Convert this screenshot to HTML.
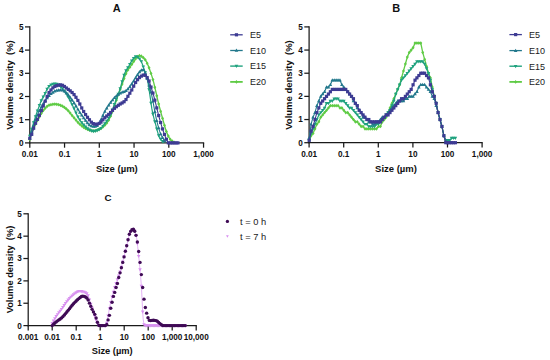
<!DOCTYPE html>
<html><head><meta charset="utf-8"><style>
html,body{margin:0;padding:0;background:#fff;width:550px;height:360px;overflow:hidden}
svg{display:block}
</style></head><body>
<svg width="550" height="360" viewBox="0 0 550 360">
<rect width="550" height="360" fill="#fff"/>
<g stroke="#1a1a1a" stroke-width="1.25" fill="none" stroke-linecap="butt">
<path d="M29.80,26.28V143.53"/>
<path d="M29.18,142.90H204.18"/>
<path d="M25.00,142.90H29.80"/>
<path d="M25.00,119.70H29.80"/>
<path d="M25.00,96.50H29.80"/>
<path d="M25.00,73.30H29.80"/>
<path d="M25.00,50.10H29.80"/>
<path d="M25.00,26.90H29.80"/>
<path d="M29.80,142.90V147.70"/>
<path d="M64.55,142.90V147.70"/>
<path d="M99.30,142.90V147.70"/>
<path d="M134.05,142.90V147.70"/>
<path d="M168.80,142.90V147.70"/>
<path d="M203.55,142.90V147.70"/>
</g>
<g font-family='"Liberation Sans", sans-serif' font-weight="bold" font-size="8.2" fill="#111">
<text x="23.50" y="145.85" text-anchor="end">0</text>
<text x="23.50" y="122.65" text-anchor="end">1</text>
<text x="23.50" y="99.45" text-anchor="end">2</text>
<text x="23.50" y="76.25" text-anchor="end">3</text>
<text x="23.50" y="53.05" text-anchor="end">4</text>
<text x="23.50" y="29.85" text-anchor="end">5</text>
<text x="29.80" y="157.40" text-anchor="middle">0.01</text>
<text x="64.55" y="157.40" text-anchor="middle">0.1</text>
<text x="99.30" y="157.40" text-anchor="middle">1</text>
<text x="134.05" y="157.40" text-anchor="middle">10</text>
<text x="168.80" y="157.40" text-anchor="middle">100</text>
<text x="203.55" y="157.40" text-anchor="middle">1,000</text>
</g>
<text x="116.80" y="11.80" font-family='"Liberation Sans", sans-serif' font-weight="bold" font-size="11.0" text-anchor="middle" fill="#111">A</text>
<text transform="translate(13.20,85.00) rotate(-90)" font-family='"Liberation Sans", sans-serif' font-weight="bold" font-size="9.5" text-anchor="middle" fill="#111">Volume density&#160; (%)</text>
<text x="116.85" y="171.60" font-family='"Liberation Sans", sans-serif' font-weight="bold" font-size="9.5" text-anchor="middle" fill="#111">Size (µm)</text>
<g stroke="#1a1a1a" stroke-width="1.25" fill="none" stroke-linecap="butt">
<path d="M309.10,26.27V143.32"/>
<path d="M308.48,142.70H482.73"/>
<path d="M304.30,142.70H309.10"/>
<path d="M304.30,119.54H309.10"/>
<path d="M304.30,96.38H309.10"/>
<path d="M304.30,73.22H309.10"/>
<path d="M304.30,50.06H309.10"/>
<path d="M304.30,26.90H309.10"/>
<path d="M309.10,142.70V147.50"/>
<path d="M343.70,142.70V147.50"/>
<path d="M378.30,142.70V147.50"/>
<path d="M412.90,142.70V147.50"/>
<path d="M447.50,142.70V147.50"/>
<path d="M482.10,142.70V147.50"/>
</g>
<g font-family='"Liberation Sans", sans-serif' font-weight="bold" font-size="8.2" fill="#111">
<text x="302.80" y="145.65" text-anchor="end">0</text>
<text x="302.80" y="122.49" text-anchor="end">1</text>
<text x="302.80" y="99.33" text-anchor="end">2</text>
<text x="302.80" y="76.17" text-anchor="end">3</text>
<text x="302.80" y="53.01" text-anchor="end">4</text>
<text x="302.80" y="29.85" text-anchor="end">5</text>
<text x="309.10" y="157.20" text-anchor="middle">0.01</text>
<text x="343.70" y="157.20" text-anchor="middle">0.1</text>
<text x="378.30" y="157.20" text-anchor="middle">1</text>
<text x="412.90" y="157.20" text-anchor="middle">10</text>
<text x="447.50" y="157.20" text-anchor="middle">100</text>
<text x="482.10" y="157.20" text-anchor="middle">1,000</text>
</g>
<text x="396.20" y="11.80" font-family='"Liberation Sans", sans-serif' font-weight="bold" font-size="11.0" text-anchor="middle" fill="#111">B</text>
<text transform="translate(292.40,85.00) rotate(-90)" font-family='"Liberation Sans", sans-serif' font-weight="bold" font-size="9.5" text-anchor="middle" fill="#111">Volume density&#160; (%)</text>
<text x="396.00" y="171.60" font-family='"Liberation Sans", sans-serif' font-weight="bold" font-size="9.5" text-anchor="middle" fill="#111">Size (µm)</text>
<g stroke="#1a1a1a" stroke-width="1.25" fill="none" stroke-linecap="butt">
<path d="M28.20,213.18V326.23"/>
<path d="M27.57,325.60H196.82"/>
<path d="M23.40,325.60H28.20"/>
<path d="M23.40,303.24H28.20"/>
<path d="M23.40,280.88H28.20"/>
<path d="M23.40,258.52H28.20"/>
<path d="M23.40,236.16H28.20"/>
<path d="M23.40,213.80H28.20"/>
<path d="M28.20,325.60V330.40"/>
<path d="M52.20,325.60V330.40"/>
<path d="M76.20,325.60V330.40"/>
<path d="M100.20,325.60V330.40"/>
<path d="M124.20,325.60V330.40"/>
<path d="M148.20,325.60V330.40"/>
<path d="M172.20,325.60V330.40"/>
<path d="M196.20,325.60V330.40"/>
</g>
<g font-family='"Liberation Sans", sans-serif' font-weight="bold" font-size="8.2" fill="#111">
<text x="21.90" y="328.55" text-anchor="end">0</text>
<text x="21.90" y="306.19" text-anchor="end">1</text>
<text x="21.90" y="283.83" text-anchor="end">2</text>
<text x="21.90" y="261.47" text-anchor="end">3</text>
<text x="21.90" y="239.11" text-anchor="end">4</text>
<text x="21.90" y="216.75" text-anchor="end">5</text>
<text x="28.20" y="340.10" text-anchor="middle">0.001</text>
<text x="52.20" y="340.10" text-anchor="middle">0.01</text>
<text x="76.20" y="340.10" text-anchor="middle">0.1</text>
<text x="100.20" y="340.10" text-anchor="middle">1</text>
<text x="124.20" y="340.10" text-anchor="middle">10</text>
<text x="148.20" y="340.10" text-anchor="middle">100</text>
<text x="172.20" y="340.10" text-anchor="middle">1,000</text>
<text x="196.20" y="340.10" text-anchor="middle">10,000</text>
</g>
<text x="108.00" y="200.90" font-family='"Liberation Sans", sans-serif' font-weight="bold" font-size="9.8" text-anchor="middle" fill="#111">C</text>
<text transform="translate(13.20,269.50) rotate(-90)" font-family='"Liberation Sans", sans-serif' font-weight="bold" font-size="9.3" text-anchor="middle" fill="#111">Volume density&#160; (%)</text>
<text x="112.20" y="354.00" font-family='"Liberation Sans", sans-serif' font-weight="bold" font-size="9.3" text-anchor="middle" fill="#111">Size (µm)</text>
<path d="M29.80,139.42 L30.30,137.86 L30.80,136.33 L31.30,134.85 L31.80,133.41 L32.30,132.01 L32.80,130.66 L33.30,129.36 L33.80,128.10 L34.30,126.89 L34.80,125.73 L35.30,124.62 L35.80,123.56 L36.30,122.55 L36.80,121.58 L37.30,120.63 L37.80,119.71 L38.30,118.81 L38.80,117.92 L39.30,117.02 L39.80,116.11 L40.30,115.20 L40.80,114.30 L41.30,113.42 L41.80,112.58 L42.30,111.79 L42.80,111.07 L43.30,110.42 L43.80,109.82 L44.30,109.22 L44.80,108.63 L45.30,108.06 L45.80,107.51 L46.30,107.01 L46.80,106.55 L47.30,106.14 L47.80,105.79 L48.30,105.52 L48.80,105.32 L49.30,105.16 L49.80,105.01 L50.30,104.87 L50.80,104.74 L51.30,104.62 L51.80,104.51 L52.30,104.41 L52.80,104.33 L53.30,104.26 L53.80,104.21 L54.30,104.17 L54.80,104.16 L55.30,104.16 L55.80,104.19 L56.30,104.24 L56.80,104.31 L57.30,104.41 L57.80,104.51 L58.30,104.63 L58.80,104.76 L59.30,104.89 L59.80,105.03 L60.30,105.17 L60.80,105.35 L61.30,105.57 L61.80,105.81 L62.30,106.08 L62.80,106.37 L63.30,106.69 L63.80,107.03 L64.30,107.39 L64.80,107.76 L65.30,108.14 L65.80,108.54 L66.30,108.94 L66.80,109.34 L67.30,109.78 L67.80,110.27 L68.30,110.80 L68.80,111.37 L69.30,111.96 L69.80,112.57 L70.30,113.20 L70.80,113.84 L71.30,114.47 L71.80,115.11 L72.30,115.73 L72.80,116.34 L73.30,116.92 L73.80,117.49 L74.30,118.07 L74.80,118.67 L75.30,119.26 L75.80,119.86 L76.30,120.45 L76.80,121.04 L77.30,121.61 L77.80,122.17 L78.30,122.71 L78.80,123.22 L79.30,123.71 L79.80,124.17 L80.30,124.60 L80.80,125.02 L81.30,125.43 L81.80,125.84 L82.30,126.24 L82.80,126.63 L83.30,127.00 L83.80,127.36 L84.30,127.70 L84.80,128.01 L85.30,128.30 L85.80,128.57 L86.30,128.81 L86.80,129.02 L87.30,129.22 L87.80,129.42 L88.30,129.62 L88.80,129.81 L89.30,130.00 L89.80,130.17 L90.30,130.33 L90.80,130.47 L91.30,130.60 L91.80,130.70 L92.30,130.77 L92.80,130.82 L93.30,130.84 L93.80,130.82 L94.30,130.78 L94.80,130.71 L95.30,130.61 L95.80,130.50 L96.30,130.37 L96.80,130.21 L97.30,130.05 L97.80,129.87 L98.30,129.68 L98.80,129.48 L99.30,129.27 L99.80,129.06 L100.30,128.84 L100.80,128.57 L101.30,128.25 L101.80,127.89 L102.30,127.50 L102.80,127.07 L103.30,126.63 L103.80,126.16 L104.30,125.69 L104.80,125.21 L105.30,124.70 L105.80,124.17 L106.30,123.60 L106.80,122.98 L107.30,122.33 L107.80,121.62 L108.30,120.86 L108.80,120.01 L109.30,119.06 L109.80,118.02 L110.30,116.89 L110.80,115.70 L111.30,114.46 L111.80,113.18 L112.30,111.88 L112.80,110.57 L113.30,109.26 L113.80,107.92 L114.30,106.50 L114.80,105.03 L115.30,103.51 L115.80,101.98 L116.30,100.43 L116.80,98.90 L117.30,97.38 L117.80,95.91 L118.30,94.49 L118.80,93.10 L119.30,91.72 L119.80,90.36 L120.30,89.01 L120.80,87.66 L121.30,86.32 L121.80,84.96 L122.30,83.59 L122.80,82.21 L123.30,80.78 L123.80,79.35 L124.30,77.94 L124.80,76.60 L125.30,75.33 L125.80,74.08 L126.30,72.91 L126.80,71.87 L127.30,70.96 L127.80,70.14 L128.30,69.38 L128.80,68.66 L129.30,67.97 L129.80,67.29 L130.30,66.60 L130.80,65.88 L131.30,65.12 L131.80,64.36 L132.30,63.60 L132.80,62.83 L133.30,62.08 L133.80,61.34 L134.30,60.63 L134.80,59.94 L135.30,59.22 L135.80,58.49 L136.30,57.79 L136.80,57.19 L137.30,56.73 L137.80,56.43 L138.30,56.16 L138.80,55.93 L139.30,55.77 L139.80,55.68 L140.30,55.70 L140.80,55.88 L141.30,56.17 L141.80,56.53 L142.30,56.91 L142.80,57.29 L143.30,57.71 L143.80,58.18 L144.30,58.71 L144.80,59.30 L145.30,59.94 L145.80,60.67 L146.30,61.54 L146.80,62.52 L147.30,63.58 L147.80,64.71 L148.30,65.88 L148.80,67.12 L149.30,68.48 L149.80,69.93 L150.30,71.41 L150.80,72.90 L151.30,74.38 L151.80,75.88 L152.30,77.44 L152.80,79.09 L153.30,80.86 L153.80,82.87 L154.30,85.01 L154.80,87.14 L155.30,89.31 L155.80,91.51 L156.30,93.73 L156.80,95.95 L157.30,98.14 L157.80,100.28 L158.30,102.36 L158.80,104.36 L159.30,106.33 L159.80,108.25 L160.30,110.15 L160.80,112.01 L161.30,113.85 L161.80,115.67 L162.30,117.47 L162.80,119.26 L163.30,121.09 L163.80,122.94 L164.30,124.77 L164.80,126.55 L165.30,128.25 L165.80,129.83 L166.30,131.25 L166.80,132.51 L167.30,133.73 L167.80,134.90 L168.30,136.01 L168.80,137.03 L169.30,137.96 L169.80,138.76 L170.30,139.43 L170.80,139.95 L171.30,140.39 L171.80,140.77 L172.30,141.11 L172.80,141.43 L173.30,141.74 L173.80,142.07 L174.30,142.42 L174.80,142.76" fill="none" stroke="#5fcb45" stroke-width="1.30" stroke-linejoin="round"/>
<g fill="#5fcb45">
<path d="M29.80,137.55L31.30,139.42L29.80,141.29L28.30,139.42Z"/>
<path d="M31.72,131.76L33.22,133.63L31.72,135.50L30.23,133.63Z"/>
<path d="M33.65,126.61L35.14,128.48L33.65,130.35L32.15,128.48Z"/>
<path d="M35.57,122.17L37.07,124.04L35.57,125.91L34.08,124.04Z"/>
<path d="M37.50,118.40L38.99,120.27L37.50,122.14L36.00,120.27Z"/>
<path d="M39.42,114.94L40.91,116.81L39.42,118.68L37.92,116.81Z"/>
<path d="M41.34,111.48L42.84,113.35L41.34,115.22L39.85,113.35Z"/>
<path d="M43.27,108.59L44.76,110.46L43.27,112.33L41.77,110.46Z"/>
<path d="M45.19,106.31L46.69,108.18L45.19,110.05L43.69,108.18Z"/>
<path d="M47.11,104.41L48.61,106.28L47.11,108.15L45.62,106.28Z"/>
<path d="M49.04,103.37L50.53,105.24L49.04,107.11L47.54,105.24Z"/>
<path d="M50.96,102.83L52.46,104.70L50.96,106.57L49.47,104.70Z"/>
<path d="M52.89,102.45L54.38,104.32L52.89,106.19L51.39,104.32Z"/>
<path d="M54.81,102.29L56.31,104.16L54.81,106.03L53.31,104.16Z"/>
<path d="M56.73,102.43L58.23,104.30L56.73,106.17L55.24,104.30Z"/>
<path d="M58.66,102.85L60.15,104.72L58.66,106.59L57.16,104.72Z"/>
<path d="M60.58,103.40L62.08,105.27L60.58,107.14L59.08,105.27Z"/>
<path d="M62.50,104.33L64.00,106.20L62.50,108.07L61.01,106.20Z"/>
<path d="M64.43,105.61L65.92,107.48L64.43,109.35L62.93,107.48Z"/>
<path d="M66.35,107.11L67.85,108.98L66.35,110.85L64.86,108.98Z"/>
<path d="M68.28,108.91L69.77,110.78L68.28,112.65L66.78,110.78Z"/>
<path d="M70.20,111.20L71.70,113.07L70.20,114.94L68.70,113.07Z"/>
<path d="M72.12,113.64L73.62,115.51L72.12,117.38L70.63,115.51Z"/>
<path d="M74.05,115.91L75.54,117.78L74.05,119.65L72.55,117.78Z"/>
<path d="M75.97,118.19L77.47,120.06L75.97,121.93L74.47,120.06Z"/>
<path d="M77.89,120.40L79.39,122.27L77.89,124.14L76.40,122.27Z"/>
<path d="M79.82,122.31L81.31,124.18L79.82,126.05L78.32,124.18Z"/>
<path d="M81.74,123.93L83.24,125.80L81.74,127.67L80.25,125.80Z"/>
<path d="M83.67,125.40L85.16,127.27L83.67,129.14L82.17,127.27Z"/>
<path d="M85.59,126.59L87.09,128.46L85.59,130.33L84.09,128.46Z"/>
<path d="M87.51,127.44L89.01,129.31L87.51,131.18L86.02,129.31Z"/>
<path d="M89.44,128.18L90.93,130.05L89.44,131.92L87.94,130.05Z"/>
<path d="M91.36,128.74L92.86,130.61L91.36,132.48L89.87,130.61Z"/>
<path d="M93.29,128.97L94.78,130.84L93.29,132.71L91.79,130.84Z"/>
<path d="M95.21,128.76L96.70,130.63L95.21,132.50L93.71,130.63Z"/>
<path d="M97.13,128.23L98.63,130.10L97.13,131.97L95.64,130.10Z"/>
<path d="M99.06,127.50L100.55,129.37L99.06,131.24L97.56,129.37Z"/>
<path d="M100.98,126.59L102.48,128.46L100.98,130.33L99.48,128.46Z"/>
<path d="M102.90,125.11L104.40,126.98L102.90,128.85L101.41,126.98Z"/>
<path d="M104.83,123.31L106.32,125.18L104.83,127.05L103.33,125.18Z"/>
<path d="M106.75,121.17L108.25,123.04L106.75,124.91L105.26,123.04Z"/>
<path d="M108.68,118.36L110.17,120.23L108.68,122.10L107.18,120.23Z"/>
<path d="M110.60,114.32L112.10,116.19L110.60,118.06L109.10,116.19Z"/>
<path d="M112.52,109.43L114.02,111.30L112.52,113.17L111.03,111.30Z"/>
<path d="M114.45,104.20L115.94,106.07L114.45,107.94L112.95,106.07Z"/>
<path d="M116.37,98.34L117.87,100.21L116.37,102.08L114.87,100.21Z"/>
<path d="M118.29,92.64L119.79,94.51L118.29,96.38L116.80,94.51Z"/>
<path d="M120.22,87.36L121.71,89.23L120.22,91.10L118.72,89.23Z"/>
<path d="M122.14,82.16L123.64,84.03L122.14,85.90L120.65,84.03Z"/>
<path d="M124.07,76.72L125.56,78.59L124.07,80.46L122.57,78.59Z"/>
<path d="M125.99,71.76L127.49,73.63L125.99,75.50L124.49,73.63Z"/>
<path d="M127.91,68.09L129.41,69.96L127.91,71.83L126.42,69.96Z"/>
<path d="M129.84,65.37L131.33,67.24L129.84,69.11L128.34,67.24Z"/>
<path d="M131.76,62.55L133.26,64.42L131.76,66.29L130.26,64.42Z"/>
<path d="M133.68,59.64L135.18,61.51L133.68,63.38L132.19,61.51Z"/>
<path d="M135.61,56.90L137.10,58.77L135.61,60.64L134.11,58.77Z"/>
<path d="M137.53,54.71L139.03,56.58L137.53,58.45L136.04,56.58Z"/>
<path d="M139.46,53.86L140.95,55.73L139.46,57.60L137.96,55.73Z"/>
<path d="M141.38,54.36L142.88,56.23L141.38,58.10L139.88,56.23Z"/>
<path d="M143.30,55.84L144.80,57.71L143.30,59.58L141.81,57.71Z"/>
<path d="M145.23,57.97L146.72,59.84L145.23,61.71L143.73,59.84Z"/>
<path d="M147.15,61.39L148.65,63.26L147.15,65.13L145.66,63.26Z"/>
<path d="M149.08,65.99L150.57,67.86L149.08,69.73L147.58,67.86Z"/>
<path d="M151.00,71.62L152.49,73.49L151.00,75.36L149.50,73.49Z"/>
<path d="M152.92,77.64L154.42,79.51L152.92,81.38L151.43,79.51Z"/>
<path d="M154.85,85.47L156.34,87.34L154.85,89.21L153.35,87.34Z"/>
<path d="M156.77,93.95L158.27,95.82L156.77,97.69L155.27,95.82Z"/>
<path d="M158.69,102.07L160.19,103.94L158.69,105.81L157.20,103.94Z"/>
<path d="M160.62,109.47L162.11,111.34L160.62,113.21L159.12,111.34Z"/>
<path d="M162.54,116.46L164.04,118.33L162.54,120.20L161.05,118.33Z"/>
<path d="M164.47,123.50L165.96,125.37L164.47,127.24L162.97,125.37Z"/>
<path d="M166.39,129.61L167.89,131.48L166.39,133.35L164.89,131.48Z"/>
<path d="M168.31,134.17L169.81,136.04L168.31,137.91L166.82,136.04Z"/>
<path d="M170.24,137.48L171.73,139.35L170.24,141.22L168.74,139.35Z"/>
<path d="M172.16,139.15L173.66,141.02L172.16,142.89L170.66,141.02Z"/>
<path d="M174.08,140.39L175.58,142.26L174.08,144.13L172.59,142.26Z"/>
</g>
<path d="M29.80,135.94 L30.30,134.11 L30.80,132.31 L31.30,130.53 L31.80,128.78 L32.30,127.05 L32.80,125.36 L33.30,123.70 L33.80,122.07 L34.30,120.46 L34.80,118.87 L35.30,117.30 L35.80,115.77 L36.30,114.26 L36.80,112.77 L37.30,111.32 L37.80,109.91 L38.30,108.50 L38.80,107.10 L39.30,105.72 L39.80,104.37 L40.30,103.07 L40.80,101.82 L41.30,100.64 L41.80,99.53 L42.30,98.52 L42.80,97.59 L43.30,96.69 L43.80,95.81 L44.30,94.92 L44.80,93.99 L45.30,92.97 L45.80,91.90 L46.30,90.80 L46.80,89.74 L47.30,88.76 L47.80,87.91 L48.30,87.22 L48.80,86.66 L49.30,86.16 L49.80,85.71 L50.30,85.33 L50.80,85.01 L51.30,84.74 L51.80,84.49 L52.30,84.24 L52.80,84.03 L53.30,83.87 L53.80,83.77 L54.30,83.74 L54.80,83.75 L55.30,83.78 L55.80,83.82 L56.30,83.88 L56.80,83.94 L57.30,84.04 L57.80,84.27 L58.30,84.60 L58.80,85.00 L59.30,85.44 L59.80,85.89 L60.30,86.32 L60.80,86.78 L61.30,87.28 L61.80,87.82 L62.30,88.38 L62.80,88.97 L63.30,89.58 L63.80,90.21 L64.30,90.86 L64.80,91.56 L65.30,92.29 L65.80,93.05 L66.30,93.84 L66.80,94.65 L67.30,95.49 L67.80,96.35 L68.30,97.22 L68.80,98.11 L69.30,99.00 L69.80,99.92 L70.30,100.87 L70.80,101.86 L71.30,102.86 L71.80,103.89 L72.30,104.92 L72.80,105.97 L73.30,107.02 L73.80,108.08 L74.30,109.12 L74.80,110.16 L75.30,111.24 L75.80,112.35 L76.30,113.47 L76.80,114.57 L77.30,115.61 L77.80,116.56 L78.30,117.42 L78.80,118.25 L79.30,119.04 L79.80,119.81 L80.30,120.55 L80.80,121.25 L81.30,121.93 L81.80,122.58 L82.30,123.20 L82.80,123.78 L83.30,124.34 L83.80,124.88 L84.30,125.41 L84.80,125.92 L85.30,126.43 L85.80,126.92 L86.30,127.40 L86.80,127.85 L87.30,128.28 L87.80,128.69 L88.30,129.07 L88.80,129.43 L89.30,129.75 L89.80,130.04 L90.30,130.30 L90.80,130.56 L91.30,130.82 L91.80,131.04 L92.30,131.20 L92.80,131.29 L93.30,131.29 L93.80,131.25 L94.30,131.19 L94.80,131.10 L95.30,130.99 L95.80,130.88 L96.30,130.76 L96.80,130.61 L97.30,130.43 L97.80,130.21 L98.30,129.97 L98.80,129.71 L99.30,129.42 L99.80,129.11 L100.30,128.77 L100.80,128.35 L101.30,127.87 L101.80,127.32 L102.30,126.74 L102.80,126.12 L103.30,125.49 L103.80,124.85 L104.30,124.21 L104.80,123.59 L105.30,122.95 L105.80,122.30 L106.30,121.64 L106.80,120.97 L107.30,120.26 L107.80,119.53 L108.30,118.77 L108.80,117.96 L109.30,117.12 L109.80,116.23 L110.30,115.29 L110.80,114.25 L111.30,113.07 L111.80,111.79 L112.30,110.42 L112.80,108.99 L113.30,107.54 L113.80,106.08 L114.30,104.65 L114.80,103.26 L115.30,101.94 L115.80,100.63 L116.30,99.33 L116.80,98.04 L117.30,96.74 L117.80,95.42 L118.30,94.08 L118.80,92.71 L119.30,91.28 L119.80,89.79 L120.30,88.17 L120.80,86.44 L121.30,84.64 L121.80,82.81 L122.30,80.98 L122.80,79.18 L123.30,77.46 L123.80,75.84 L124.30,74.37 L124.80,73.07 L125.30,71.96 L125.80,70.97 L126.30,70.07 L126.80,69.24 L127.30,68.44 L127.80,67.66 L128.30,66.87 L128.80,66.05 L129.30,65.17 L129.80,64.24 L130.30,63.31 L130.80,62.40 L131.30,61.55 L131.80,60.80 L132.30,60.15 L132.80,59.48 L133.30,58.81 L133.80,58.17 L134.30,57.60 L134.80,57.13 L135.30,56.79 L135.80,56.61 L136.30,56.62 L136.80,56.74 L137.30,56.97 L137.80,57.29 L138.30,57.69 L138.80,58.16 L139.30,58.68 L139.80,59.24 L140.30,59.83 L140.80,60.51 L141.30,61.47 L141.80,62.66 L142.30,63.99 L142.80,65.34 L143.30,66.68 L143.80,68.11 L144.30,69.62 L144.80,71.18 L145.30,72.77 L145.80,74.37 L146.30,75.92 L146.80,77.49 L147.30,79.33 L147.80,81.73 L148.30,84.62 L148.80,87.80 L149.30,91.09 L149.80,94.32 L150.30,97.83 L150.80,101.51 L151.30,105.11 L151.80,108.40 L152.30,111.16 L152.80,113.52 L153.30,115.67 L153.80,117.65 L154.30,119.53 L154.80,121.34 L155.30,123.14 L155.80,125.00 L156.30,126.93 L156.80,128.89 L157.30,130.80 L157.80,132.62 L158.30,134.29 L158.80,135.73 L159.30,136.90 L159.80,137.82 L160.30,138.62 L160.80,139.33 L161.30,139.98 L161.80,140.57 L162.30,141.12 L162.80,141.66 L163.30,142.20 L163.80,142.71" fill="none" stroke="#1fa27e" stroke-width="1.20" stroke-linejoin="round"/>
<g fill="#1fa27e">
<path d="M29.80,137.88L31.60,134.64L28.00,134.64Z"/>
<path d="M31.72,130.99L33.52,127.75L29.92,127.75Z"/>
<path d="M33.65,124.51L35.45,121.27L31.85,121.27Z"/>
<path d="M35.57,118.41L37.37,115.17L33.77,115.17Z"/>
<path d="M37.50,112.71L39.30,109.47L35.70,109.47Z"/>
<path d="M39.42,107.34L41.22,104.10L37.62,104.10Z"/>
<path d="M41.34,102.48L43.14,99.24L39.54,99.24Z"/>
<path d="M43.27,98.69L45.07,95.45L41.47,95.45Z"/>
<path d="M45.19,95.15L46.99,91.91L43.39,91.91Z"/>
<path d="M47.11,91.06L48.91,87.82L45.31,87.82Z"/>
<path d="M49.04,88.36L50.84,85.12L47.24,85.12Z"/>
<path d="M50.96,86.86L52.76,83.62L49.16,83.62Z"/>
<path d="M52.89,85.95L54.69,82.71L51.09,82.71Z"/>
<path d="M54.81,85.70L56.61,82.46L53.01,82.46Z"/>
<path d="M56.73,85.88L58.53,82.64L54.93,82.64Z"/>
<path d="M58.66,86.83L60.46,83.59L56.86,83.59Z"/>
<path d="M60.58,88.52L62.38,85.28L58.78,85.28Z"/>
<path d="M62.50,90.56L64.30,87.32L60.70,87.32Z"/>
<path d="M64.43,92.98L66.23,89.74L62.63,89.74Z"/>
<path d="M66.35,95.86L68.15,92.62L64.55,92.62Z"/>
<path d="M68.28,99.12L70.08,95.88L66.48,95.88Z"/>
<path d="M70.20,102.62L72.00,99.38L68.40,99.38Z"/>
<path d="M72.12,106.50L73.92,103.26L70.32,103.26Z"/>
<path d="M74.05,110.54L75.85,107.30L72.25,107.30Z"/>
<path d="M75.97,114.68L77.77,111.44L74.17,111.44Z"/>
<path d="M77.89,118.68L79.69,115.44L76.09,115.44Z"/>
<path d="M79.82,121.78L81.62,118.54L78.02,118.54Z"/>
<path d="M81.74,124.45L83.54,121.21L79.94,121.21Z"/>
<path d="M83.67,126.68L85.47,123.44L81.87,123.44Z"/>
<path d="M85.59,128.66L87.39,125.42L83.79,125.42Z"/>
<path d="M87.51,130.41L89.31,127.17L85.71,127.17Z"/>
<path d="M89.44,131.77L91.24,128.53L87.64,128.53Z"/>
<path d="M91.36,132.79L93.16,129.55L89.56,129.55Z"/>
<path d="M93.29,133.24L95.09,130.00L91.49,130.00Z"/>
<path d="M95.21,132.96L97.01,129.72L93.41,129.72Z"/>
<path d="M97.13,132.44L98.93,129.20L95.33,129.20Z"/>
<path d="M99.06,131.51L100.86,128.27L97.26,128.27Z"/>
<path d="M100.98,130.13L102.78,126.89L99.18,126.89Z"/>
<path d="M102.90,127.93L104.70,124.69L101.10,124.69Z"/>
<path d="M104.83,125.49L106.63,122.25L103.03,122.25Z"/>
<path d="M106.75,122.98L108.55,119.74L104.95,119.74Z"/>
<path d="M108.68,120.11L110.48,116.87L106.88,116.87Z"/>
<path d="M110.60,116.63L112.40,113.39L108.80,113.39Z"/>
<path d="M112.52,111.73L114.32,108.49L110.72,108.49Z"/>
<path d="M114.45,106.18L116.25,102.94L112.65,102.94Z"/>
<path d="M116.37,101.09L118.17,97.85L114.57,97.85Z"/>
<path d="M118.29,96.04L120.09,92.80L116.49,92.80Z"/>
<path d="M120.22,90.38L122.02,87.14L118.42,87.14Z"/>
<path d="M122.14,83.50L123.94,80.26L120.34,80.26Z"/>
<path d="M124.07,76.98L125.87,73.74L122.27,73.74Z"/>
<path d="M125.99,72.57L127.79,69.33L124.19,69.33Z"/>
<path d="M127.91,69.43L129.71,66.19L126.11,66.19Z"/>
<path d="M129.84,66.12L131.64,62.88L128.04,62.88Z"/>
<path d="M131.76,62.80L133.56,59.56L129.96,59.56Z"/>
<path d="M133.68,60.26L135.48,57.02L131.88,57.02Z"/>
<path d="M135.61,58.60L137.41,55.36L133.81,55.36Z"/>
<path d="M137.53,59.06L139.33,55.82L135.73,55.82Z"/>
<path d="M139.46,60.80L141.26,57.56L137.66,57.56Z"/>
<path d="M141.38,63.59L143.18,60.35L139.58,60.35Z"/>
<path d="M143.30,68.64L145.10,65.40L141.50,65.40Z"/>
<path d="M145.23,74.48L147.03,71.24L143.43,71.24Z"/>
<path d="M147.15,80.68L148.95,77.44L145.35,77.44Z"/>
<path d="M149.08,91.56L150.88,88.32L147.28,88.32Z"/>
<path d="M151.00,104.90L152.80,101.66L149.20,101.66Z"/>
<path d="M152.92,116.01L154.72,112.77L151.12,112.77Z"/>
<path d="M154.85,123.45L156.65,120.21L153.05,120.21Z"/>
<path d="M156.77,130.71L158.57,127.47L154.97,127.47Z"/>
<path d="M158.69,137.39L160.49,134.15L156.89,134.15Z"/>
<path d="M160.62,141.03L162.42,137.79L158.82,137.79Z"/>
<path d="M162.54,143.33L164.34,140.09L160.74,140.09Z"/>
</g>
<path d="M29.80,138.26 L30.30,136.44 L30.80,134.66 L31.30,132.93 L31.80,131.24 L32.30,129.59 L32.80,127.99 L33.30,126.43 L33.80,124.93 L34.30,123.47 L34.80,122.05 L35.30,120.67 L35.80,119.33 L36.30,118.03 L36.80,116.76 L37.30,115.54 L37.80,114.36 L38.30,113.22 L38.80,112.11 L39.30,111.02 L39.80,109.97 L40.30,108.96 L40.80,107.97 L41.30,107.03 L41.80,106.13 L42.30,105.26 L42.80,104.42 L43.30,103.58 L43.80,102.77 L44.30,101.97 L44.80,101.20 L45.30,100.44 L45.80,99.71 L46.30,99.01 L46.80,98.34 L47.30,97.69 L47.80,97.08 L48.30,96.50 L48.80,95.95 L49.30,95.41 L49.80,94.90 L50.30,94.42 L50.80,93.97 L51.30,93.55 L51.80,93.16 L52.30,92.81 L52.80,92.46 L53.30,92.11 L53.80,91.77 L54.30,91.46 L54.80,91.17 L55.30,90.92 L55.80,90.71 L56.30,90.55 L56.80,90.45 L57.30,90.38 L57.80,90.30 L58.30,90.24 L58.80,90.18 L59.30,90.13 L59.80,90.08 L60.30,90.05 L60.80,90.02 L61.30,90.01 L61.80,90.01 L62.30,90.08 L62.80,90.24 L63.30,90.48 L63.80,90.80 L64.30,91.17 L64.80,91.59 L65.30,92.04 L65.80,92.52 L66.30,93.01 L66.80,93.51 L67.30,93.99 L67.80,94.48 L68.30,95.03 L68.80,95.64 L69.30,96.28 L69.80,96.93 L70.30,97.59 L70.80,98.25 L71.30,98.93 L71.80,99.63 L72.30,100.34 L72.80,101.06 L73.30,101.79 L73.80,102.54 L74.30,103.30 L74.80,104.08 L75.30,104.87 L75.80,105.71 L76.30,106.58 L76.80,107.46 L77.30,108.33 L77.80,109.17 L78.30,109.97 L78.80,110.76 L79.30,111.55 L79.80,112.32 L80.30,113.09 L80.80,113.85 L81.30,114.59 L81.80,115.32 L82.30,116.04 L82.80,116.73 L83.30,117.41 L83.80,118.08 L84.30,118.74 L84.80,119.43 L85.30,120.12 L85.80,120.82 L86.30,121.50 L86.80,122.17 L87.30,122.80 L87.80,123.39 L88.30,123.94 L88.80,124.42 L89.30,124.83 L89.80,125.16 L90.30,125.42 L90.80,125.66 L91.30,125.89 L91.80,126.11 L92.30,126.30 L92.80,126.45 L93.30,126.57 L93.80,126.64 L94.30,126.66 L94.80,126.60 L95.30,126.48 L95.80,126.31 L96.30,126.09 L96.80,125.84 L97.30,125.53 L97.80,125.03 L98.30,124.36 L98.80,123.58 L99.30,122.74 L99.80,121.89 L100.30,121.04 L100.80,120.10 L101.30,119.08 L101.80,117.99 L102.30,116.87 L102.80,115.73 L103.30,114.60 L103.80,113.50 L104.30,112.45 L104.80,111.48 L105.30,110.59 L105.80,109.73 L106.30,108.90 L106.80,108.09 L107.30,107.29 L107.80,106.52 L108.30,105.77 L108.80,105.04 L109.30,104.33 L109.80,103.64 L110.30,102.96 L110.80,102.30 L111.30,101.65 L111.80,101.00 L112.30,100.36 L112.80,99.73 L113.30,99.11 L113.80,98.51 L114.30,97.93 L114.80,97.38 L115.30,96.85 L115.80,96.36 L116.30,95.91 L116.80,95.49 L117.30,95.11 L117.80,94.74 L118.30,94.39 L118.80,94.06 L119.30,93.75 L119.80,93.45 L120.30,93.17 L120.80,92.91 L121.30,92.65 L121.80,92.42 L122.30,92.21 L122.80,92.03 L123.30,91.86 L123.80,91.68 L124.30,91.49 L124.80,91.26 L125.30,91.00 L125.80,90.71 L126.30,90.37 L126.80,90.01 L127.30,89.60 L127.80,89.17 L128.30,88.68 L128.80,88.13 L129.30,87.51 L129.80,86.84 L130.30,86.13 L130.80,85.39 L131.30,84.63 L131.80,83.86 L132.30,83.10 L132.80,82.35 L133.30,81.59 L133.80,80.79 L134.30,79.97 L134.80,79.13 L135.30,78.29 L135.80,77.46 L136.30,76.65 L136.80,75.86 L137.30,75.12 L137.80,74.41 L138.30,73.69 L138.80,72.96 L139.30,72.26 L139.80,71.62 L140.30,71.07 L140.80,70.64 L141.30,70.34 L141.80,70.07 L142.30,69.84 L142.80,69.67 L143.30,69.59 L143.80,69.80 L144.30,70.58 L144.80,71.73 L145.30,73.08 L145.80,74.44 L146.30,75.76 L146.80,77.27 L147.30,78.93 L147.80,80.67 L148.30,82.44 L148.80,84.20 L149.30,85.94 L149.80,87.70 L150.30,89.51 L150.80,91.41 L151.30,93.44 L151.80,95.66 L152.30,98.07 L152.80,100.62 L153.30,103.26 L153.80,105.97 L154.30,108.68 L154.80,111.37 L155.30,113.97 L155.80,116.47 L156.30,118.80 L156.80,120.93 L157.30,122.88 L157.80,124.79 L158.30,126.64 L158.80,128.41 L159.30,130.08 L159.80,131.64 L160.30,133.05 L160.80,134.32 L161.30,135.41 L161.80,136.37 L162.30,137.24 L162.80,138.04 L163.30,138.82 L163.80,139.63 L164.30,140.49 L164.80,141.44 L165.30,142.48" fill="none" stroke="#22788c" stroke-width="1.10" stroke-linejoin="round"/>
<g fill="#22788c">
<path d="M29.80,136.32L31.60,139.56L28.00,139.56Z"/>
<path d="M31.72,129.55L33.52,132.79L29.92,132.79Z"/>
<path d="M33.65,123.44L35.45,126.68L31.85,126.68Z"/>
<path d="M35.57,117.99L37.37,121.23L33.77,121.23Z"/>
<path d="M37.50,113.13L39.30,116.37L35.70,116.37Z"/>
<path d="M39.42,108.83L41.22,112.07L37.62,112.07Z"/>
<path d="M41.34,105.01L43.14,108.25L39.54,108.25Z"/>
<path d="M43.27,101.69L45.07,104.93L41.47,104.93Z"/>
<path d="M45.19,98.66L46.99,101.90L43.39,101.90Z"/>
<path d="M47.11,95.99L48.91,99.23L45.31,99.23Z"/>
<path d="M49.04,93.75L50.84,96.99L47.24,96.99Z"/>
<path d="M50.96,91.88L52.76,95.12L49.16,95.12Z"/>
<path d="M52.89,90.45L54.69,93.69L51.09,93.69Z"/>
<path d="M54.81,89.22L56.61,92.46L53.01,92.46Z"/>
<path d="M56.73,88.52L58.53,91.76L54.93,91.76Z"/>
<path d="M58.66,88.25L60.46,91.49L56.86,91.49Z"/>
<path d="M60.58,88.09L62.38,91.33L58.78,91.33Z"/>
<path d="M62.50,88.19L64.30,91.43L60.70,91.43Z"/>
<path d="M64.43,89.33L66.23,92.57L62.63,92.57Z"/>
<path d="M66.35,91.12L68.15,94.36L64.55,94.36Z"/>
<path d="M68.28,93.06L70.08,96.30L66.48,96.30Z"/>
<path d="M70.20,95.51L72.00,98.75L68.40,98.75Z"/>
<path d="M72.12,98.14L73.92,101.38L70.32,101.38Z"/>
<path d="M74.05,100.97L75.85,104.21L72.25,104.21Z"/>
<path d="M75.97,104.06L77.77,107.30L74.17,107.30Z"/>
<path d="M77.89,107.38L79.69,110.62L76.09,110.62Z"/>
<path d="M79.82,110.41L81.62,113.65L78.02,113.65Z"/>
<path d="M81.74,113.29L83.54,116.53L79.94,116.53Z"/>
<path d="M83.67,115.96L85.47,119.20L81.87,119.20Z"/>
<path d="M85.59,118.58L87.39,121.82L83.79,121.82Z"/>
<path d="M87.51,121.12L89.31,124.36L85.71,124.36Z"/>
<path d="M89.44,122.99L91.24,126.23L87.64,126.23Z"/>
<path d="M91.36,123.98L93.16,127.22L89.56,127.22Z"/>
<path d="M93.29,124.62L95.09,127.86L91.49,127.86Z"/>
<path d="M95.21,124.56L97.01,127.80L93.41,127.80Z"/>
<path d="M97.13,123.71L98.93,126.95L95.33,126.95Z"/>
<path d="M99.06,121.21L100.86,124.45L97.26,124.45Z"/>
<path d="M100.98,117.80L102.78,121.04L99.18,121.04Z"/>
<path d="M102.90,113.55L104.70,116.79L101.10,116.79Z"/>
<path d="M104.83,109.48L106.63,112.72L103.03,112.72Z"/>
<path d="M106.75,106.22L108.55,109.46L104.95,109.46Z"/>
<path d="M108.68,103.28L110.48,106.52L106.88,106.52Z"/>
<path d="M110.60,100.62L112.40,103.86L108.80,103.86Z"/>
<path d="M112.52,98.13L114.32,101.37L110.72,101.37Z"/>
<path d="M114.45,95.82L116.25,99.06L112.65,99.06Z"/>
<path d="M116.37,93.90L118.17,97.14L114.57,97.14Z"/>
<path d="M118.29,92.45L120.09,95.69L116.49,95.69Z"/>
<path d="M120.22,91.27L122.02,94.51L118.42,94.51Z"/>
<path d="M122.14,90.33L123.94,93.57L120.34,93.57Z"/>
<path d="M124.07,89.64L125.87,92.88L122.27,92.88Z"/>
<path d="M125.99,88.64L127.79,91.88L124.19,91.88Z"/>
<path d="M127.91,87.12L129.71,90.36L126.11,90.36Z"/>
<path d="M129.84,84.84L131.64,88.08L128.04,88.08Z"/>
<path d="M131.76,81.98L133.56,85.22L129.96,85.22Z"/>
<path d="M133.68,79.03L135.48,82.27L131.88,82.27Z"/>
<path d="M135.61,75.83L137.41,79.07L133.81,79.07Z"/>
<path d="M137.53,72.84L139.33,76.08L135.73,76.08Z"/>
<path d="M139.46,70.11L141.26,73.35L137.66,73.35Z"/>
<path d="M141.38,68.36L143.18,71.60L139.58,71.60Z"/>
<path d="M143.30,67.65L145.10,70.89L141.50,70.89Z"/>
<path d="M145.23,70.94L147.03,74.18L143.43,74.18Z"/>
<path d="M147.15,76.48L148.95,79.72L145.35,79.72Z"/>
<path d="M149.08,83.21L150.88,86.45L147.28,86.45Z"/>
<path d="M151.00,90.26L152.80,93.50L149.20,93.50Z"/>
<path d="M152.92,99.32L154.72,102.56L151.12,102.56Z"/>
<path d="M154.85,109.67L156.65,112.91L153.05,112.91Z"/>
<path d="M156.77,118.86L158.57,122.10L154.97,122.10Z"/>
<path d="M158.69,126.10L160.49,129.34L156.89,129.34Z"/>
<path d="M160.62,131.93L162.42,135.17L158.82,135.17Z"/>
<path d="M162.54,135.68L164.34,138.92L160.74,138.92Z"/>
<path d="M164.47,138.84L166.27,142.08L162.67,142.08Z"/>
</g>
<path d="M29.80,138.26 L30.30,137.53 L30.80,136.64 L31.30,135.50 L31.80,134.13 L32.30,132.60 L32.80,130.97 L33.30,129.33 L33.80,127.74 L34.30,126.28 L34.80,125.01 L35.30,123.85 L35.80,122.76 L36.30,121.72 L36.80,120.71 L37.30,119.71 L37.80,118.71 L38.30,117.69 L38.80,116.64 L39.30,115.53 L39.80,114.37 L40.30,113.18 L40.80,111.96 L41.30,110.72 L41.80,109.48 L42.30,108.24 L42.80,107.01 L43.30,105.80 L43.80,104.62 L44.30,103.43 L44.80,102.19 L45.30,100.93 L45.80,99.66 L46.30,98.41 L46.80,97.18 L47.30,96.00 L47.80,94.89 L48.30,93.87 L48.80,92.94 L49.30,92.14 L49.80,91.46 L50.30,90.80 L50.80,90.16 L51.30,89.55 L51.80,88.96 L52.30,88.42 L52.80,87.91 L53.30,87.45 L53.80,87.03 L54.30,86.67 L54.80,86.37 L55.30,86.14 L55.80,85.96 L56.30,85.79 L56.80,85.62 L57.30,85.47 L57.80,85.33 L58.30,85.21 L58.80,85.11 L59.30,85.02 L59.80,84.95 L60.30,84.91 L60.80,84.90 L61.30,84.94 L61.80,85.05 L62.30,85.22 L62.80,85.45 L63.30,85.73 L63.80,86.05 L64.30,86.40 L64.80,86.77 L65.30,87.16 L65.80,87.55 L66.30,87.95 L66.80,88.33 L67.30,88.70 L67.80,89.05 L68.30,89.41 L68.80,89.77 L69.30,90.14 L69.80,90.52 L70.30,90.92 L70.80,91.33 L71.30,91.76 L71.80,92.22 L72.30,92.69 L72.80,93.19 L73.30,93.72 L73.80,94.29 L74.30,94.91 L74.80,95.58 L75.30,96.30 L75.80,97.05 L76.30,97.83 L76.80,98.64 L77.30,99.46 L77.80,100.30 L78.30,101.14 L78.80,102.02 L79.30,102.96 L79.80,103.95 L80.30,104.97 L80.80,106.01 L81.30,107.05 L81.80,108.07 L82.30,109.06 L82.80,110.00 L83.30,110.88 L83.80,111.72 L84.30,112.54 L84.80,113.34 L85.30,114.11 L85.80,114.87 L86.30,115.61 L86.80,116.32 L87.30,117.01 L87.80,117.67 L88.30,118.31 L88.80,118.94 L89.30,119.60 L89.80,120.26 L90.30,120.91 L90.80,121.54 L91.30,122.11 L91.80,122.63 L92.30,123.07 L92.80,123.41 L93.30,123.64 L93.80,123.81 L94.30,123.97 L94.80,124.11 L95.30,124.22 L95.80,124.30 L96.30,124.34 L96.80,124.32 L97.30,124.24 L97.80,124.08 L98.30,123.87 L98.80,123.63 L99.30,123.35 L99.80,123.06 L100.30,122.75 L100.80,122.33 L101.30,121.81 L101.80,121.22 L102.30,120.59 L102.80,119.95 L103.30,119.32 L103.80,118.73 L104.30,118.21 L104.80,117.73 L105.30,117.27 L105.80,116.82 L106.30,116.38 L106.80,115.95 L107.30,115.53 L107.80,115.10 L108.30,114.67 L108.80,114.23 L109.30,113.77 L109.80,113.30 L110.30,112.80 L110.80,112.28 L111.30,111.73 L111.80,111.16 L112.30,110.60 L112.80,110.04 L113.30,109.49 L113.80,108.96 L114.30,108.47 L114.80,108.01 L115.30,107.58 L115.80,107.17 L116.30,106.77 L116.80,106.38 L117.30,106.01 L117.80,105.64 L118.30,105.29 L118.80,104.94 L119.30,104.59 L119.80,104.26 L120.30,103.95 L120.80,103.67 L121.30,103.40 L121.80,103.14 L122.30,102.87 L122.80,102.59 L123.30,102.28 L123.80,101.94 L124.30,101.54 L124.80,101.08 L125.30,100.49 L125.80,99.80 L126.30,99.03 L126.80,98.20 L127.30,97.35 L127.80,96.49 L128.30,95.66 L128.80,94.87 L129.30,94.07 L129.80,93.26 L130.30,92.45 L130.80,91.62 L131.30,90.77 L131.80,89.90 L132.30,88.99 L132.80,88.00 L133.30,86.97 L133.80,85.93 L134.30,84.89 L134.80,83.91 L135.30,83.00 L135.80,82.20 L136.30,81.44 L136.80,80.71 L137.30,80.01 L137.80,79.36 L138.30,78.75 L138.80,78.20 L139.30,77.72 L139.80,77.32 L140.30,76.93 L140.80,76.54 L141.30,76.16 L141.80,75.82 L142.30,75.51 L142.80,75.26 L143.30,75.07 L143.80,74.95 L144.30,74.93 L144.80,75.06 L145.30,75.36 L145.80,75.80 L146.30,76.37 L146.80,77.02 L147.30,77.75 L147.80,78.53 L148.30,79.33 L148.80,80.33 L149.30,81.63 L149.80,83.15 L150.30,84.78 L150.80,86.43 L151.30,87.99 L151.80,89.51 L152.30,91.05 L152.80,92.64 L153.30,94.30 L153.80,96.07 L154.30,98.00 L154.80,99.98 L155.30,101.95 L155.80,103.96 L156.30,105.99 L156.80,108.02 L157.30,110.05 L157.80,112.06 L158.30,114.03 L158.80,115.95 L159.30,117.82 L159.80,119.62 L160.30,121.39 L160.80,123.15 L161.30,124.87 L161.80,126.54 L162.30,128.16 L162.80,129.72 L163.30,131.20 L163.80,132.60 L164.30,133.98 L164.80,135.32 L165.30,136.62 L165.80,137.85 L166.30,139.01 L166.80,140.08 L167.30,141.04 L167.80,142.05 L168.30,142.81 L168.80,142.90 L169.30,142.90 L169.80,142.90 L170.30,142.90 L170.80,142.90 L171.30,142.90 L171.80,142.90 L172.30,142.90 L172.80,142.90 L173.30,142.90 L173.80,142.90 L174.30,142.90 L174.80,142.90 L175.30,142.90 L175.80,142.90 L176.30,142.90 L176.80,142.90 L177.30,142.90 L177.80,142.90 L178.30,142.90" fill="none" stroke="#3d3b93" stroke-width="1.10" stroke-linejoin="round"/>
<g fill="#3d3b93">
<rect x="28.20" y="136.66" width="3.20" height="3.20"/>
<rect x="30.12" y="132.75" width="3.20" height="3.20"/>
<rect x="32.05" y="126.62" width="3.20" height="3.20"/>
<rect x="33.97" y="121.65" width="3.20" height="3.20"/>
<rect x="35.90" y="117.72" width="3.20" height="3.20"/>
<rect x="37.82" y="113.66" width="3.20" height="3.20"/>
<rect x="39.74" y="109.02" width="3.20" height="3.20"/>
<rect x="41.67" y="104.28" width="3.20" height="3.20"/>
<rect x="43.59" y="99.61" width="3.20" height="3.20"/>
<rect x="45.51" y="94.84" width="3.20" height="3.20"/>
<rect x="47.44" y="90.95" width="3.20" height="3.20"/>
<rect x="49.36" y="88.36" width="3.20" height="3.20"/>
<rect x="51.29" y="86.23" width="3.20" height="3.20"/>
<rect x="53.21" y="84.77" width="3.20" height="3.20"/>
<rect x="55.13" y="84.05" width="3.20" height="3.20"/>
<rect x="57.06" y="83.53" width="3.20" height="3.20"/>
<rect x="58.98" y="83.30" width="3.20" height="3.20"/>
<rect x="60.90" y="83.71" width="3.20" height="3.20"/>
<rect x="62.83" y="84.89" width="3.20" height="3.20"/>
<rect x="64.75" y="86.39" width="3.20" height="3.20"/>
<rect x="66.68" y="87.79" width="3.20" height="3.20"/>
<rect x="68.60" y="89.24" width="3.20" height="3.20"/>
<rect x="70.52" y="90.92" width="3.20" height="3.20"/>
<rect x="72.45" y="92.99" width="3.20" height="3.20"/>
<rect x="74.37" y="95.71" width="3.20" height="3.20"/>
<rect x="76.29" y="98.86" width="3.20" height="3.20"/>
<rect x="78.22" y="102.39" width="3.20" height="3.20"/>
<rect x="80.14" y="106.35" width="3.20" height="3.20"/>
<rect x="82.07" y="109.90" width="3.20" height="3.20"/>
<rect x="83.99" y="112.96" width="3.20" height="3.20"/>
<rect x="85.91" y="115.70" width="3.20" height="3.20"/>
<rect x="87.84" y="118.18" width="3.20" height="3.20"/>
<rect x="89.76" y="120.58" width="3.20" height="3.20"/>
<rect x="91.69" y="122.04" width="3.20" height="3.20"/>
<rect x="93.61" y="122.60" width="3.20" height="3.20"/>
<rect x="95.53" y="122.67" width="3.20" height="3.20"/>
<rect x="97.46" y="121.89" width="3.20" height="3.20"/>
<rect x="99.38" y="120.55" width="3.20" height="3.20"/>
<rect x="101.30" y="118.22" width="3.20" height="3.20"/>
<rect x="103.23" y="116.10" width="3.20" height="3.20"/>
<rect x="105.15" y="114.40" width="3.20" height="3.20"/>
<rect x="107.08" y="112.74" width="3.20" height="3.20"/>
<rect x="109.00" y="110.89" width="3.20" height="3.20"/>
<rect x="110.92" y="108.75" width="3.20" height="3.20"/>
<rect x="112.85" y="106.73" width="3.20" height="3.20"/>
<rect x="114.77" y="105.11" width="3.20" height="3.20"/>
<rect x="116.69" y="103.69" width="3.20" height="3.20"/>
<rect x="118.62" y="102.40" width="3.20" height="3.20"/>
<rect x="120.54" y="101.36" width="3.20" height="3.20"/>
<rect x="122.47" y="100.13" width="3.20" height="3.20"/>
<rect x="124.39" y="97.92" width="3.20" height="3.20"/>
<rect x="126.31" y="94.70" width="3.20" height="3.20"/>
<rect x="128.24" y="91.60" width="3.20" height="3.20"/>
<rect x="130.16" y="88.36" width="3.20" height="3.20"/>
<rect x="132.08" y="84.57" width="3.20" height="3.20"/>
<rect x="134.01" y="80.89" width="3.20" height="3.20"/>
<rect x="135.93" y="78.10" width="3.20" height="3.20"/>
<rect x="137.86" y="75.99" width="3.20" height="3.20"/>
<rect x="139.78" y="74.51" width="3.20" height="3.20"/>
<rect x="141.70" y="73.47" width="3.20" height="3.20"/>
<rect x="143.63" y="73.71" width="3.20" height="3.20"/>
<rect x="145.55" y="75.93" width="3.20" height="3.20"/>
<rect x="147.48" y="79.41" width="3.20" height="3.20"/>
<rect x="149.40" y="85.46" width="3.20" height="3.20"/>
<rect x="151.32" y="91.44" width="3.20" height="3.20"/>
<rect x="153.25" y="98.56" width="3.20" height="3.20"/>
<rect x="155.17" y="106.30" width="3.20" height="3.20"/>
<rect x="157.09" y="113.95" width="3.20" height="3.20"/>
<rect x="159.02" y="120.91" width="3.20" height="3.20"/>
<rect x="160.94" y="127.32" width="3.20" height="3.20"/>
<rect x="162.87" y="132.83" width="3.20" height="3.20"/>
<rect x="164.79" y="137.61" width="3.20" height="3.20"/>
<rect x="166.71" y="141.22" width="3.20" height="3.20"/>
<rect x="168.64" y="141.30" width="3.20" height="3.20"/>
<rect x="170.56" y="141.30" width="3.20" height="3.20"/>
<rect x="172.48" y="141.30" width="3.20" height="3.20"/>
<rect x="174.41" y="141.30" width="3.20" height="3.20"/>
<rect x="176.33" y="141.30" width="3.20" height="3.20"/>
</g>
<path d="M309.20,140.38 L311.12,135.75 L313.05,133.44 L314.97,128.80 L316.90,124.17 L318.82,121.86 L320.74,117.22 L322.67,114.91 L324.59,112.59 L326.51,110.28 L328.44,107.96 L330.36,105.64 L332.29,105.64 L334.21,105.64 L336.13,105.64 L338.06,105.64 L339.98,107.96 L341.90,107.96 L343.83,110.28 L345.75,112.59 L347.68,112.59 L349.60,114.91 L351.52,117.22 L353.45,119.54 L355.37,121.86 L357.29,121.86 L359.22,124.17 L361.14,126.49 L363.07,126.49 L364.99,128.80 L366.91,128.80 L368.84,128.80 L370.76,128.80 L372.69,128.80 L374.61,128.80 L376.53,128.80 L378.46,126.49 L380.38,126.49 L382.30,121.86 L384.23,119.54 L386.15,117.22 L388.08,112.59 L390.00,107.96 L391.92,103.33 L393.85,98.70 L395.77,94.06 L397.69,89.43 L399.62,84.80 L401.54,77.85 L403.47,70.90 L405.39,63.96 L407.31,57.01 L409.24,52.38 L411.16,50.06 L413.08,47.74 L415.01,43.11 L416.93,43.11 L418.86,43.11 L420.78,43.11 L422.70,52.38 L424.63,59.32 L426.55,66.27 L428.48,73.22 L430.40,77.85 L432.32,87.12 L434.25,96.38 L436.17,103.33 L438.09,112.59 L440.02,119.54 L441.94,126.49 L443.87,135.75 L445.79,140.38" fill="none" stroke="#5fcb45" stroke-width="1.30" stroke-linejoin="round"/>
<g fill="#5fcb45">
<path d="M309.20,138.51L310.70,140.38L309.20,142.25L307.70,140.38Z"/>
<path d="M311.12,133.88L312.62,135.75L311.12,137.62L309.63,135.75Z"/>
<path d="M313.05,131.57L314.54,133.44L313.05,135.31L311.55,133.44Z"/>
<path d="M314.97,126.93L316.47,128.80L314.97,130.67L313.48,128.80Z"/>
<path d="M316.90,122.30L318.39,124.17L316.90,126.04L315.40,124.17Z"/>
<path d="M318.82,119.99L320.31,121.86L318.82,123.73L317.32,121.86Z"/>
<path d="M320.74,115.35L322.24,117.22L320.74,119.09L319.25,117.22Z"/>
<path d="M322.67,113.04L324.16,114.91L322.67,116.78L321.17,114.91Z"/>
<path d="M324.59,110.72L326.09,112.59L324.59,114.46L323.09,112.59Z"/>
<path d="M326.51,108.41L328.01,110.28L326.51,112.15L325.02,110.28Z"/>
<path d="M328.44,106.09L329.93,107.96L328.44,109.83L326.94,107.96Z"/>
<path d="M330.36,103.77L331.86,105.64L330.36,107.51L328.87,105.64Z"/>
<path d="M332.29,103.77L333.78,105.64L332.29,107.51L330.79,105.64Z"/>
<path d="M334.21,103.77L335.71,105.64L334.21,107.51L332.71,105.64Z"/>
<path d="M336.13,103.77L337.63,105.64L336.13,107.51L334.64,105.64Z"/>
<path d="M338.06,103.77L339.55,105.64L338.06,107.51L336.56,105.64Z"/>
<path d="M339.98,106.09L341.48,107.96L339.98,109.83L338.48,107.96Z"/>
<path d="M341.90,106.09L343.40,107.96L341.90,109.83L340.41,107.96Z"/>
<path d="M343.83,108.41L345.32,110.28L343.83,112.15L342.33,110.28Z"/>
<path d="M345.75,110.72L347.25,112.59L345.75,114.46L344.26,112.59Z"/>
<path d="M347.68,110.72L349.17,112.59L347.68,114.46L346.18,112.59Z"/>
<path d="M349.60,113.04L351.10,114.91L349.60,116.78L348.10,114.91Z"/>
<path d="M351.52,115.35L353.02,117.22L351.52,119.09L350.03,117.22Z"/>
<path d="M353.45,117.67L354.94,119.54L353.45,121.41L351.95,119.54Z"/>
<path d="M355.37,119.99L356.87,121.86L355.37,123.73L353.87,121.86Z"/>
<path d="M357.29,119.99L358.79,121.86L357.29,123.73L355.80,121.86Z"/>
<path d="M359.22,122.30L360.71,124.17L359.22,126.04L357.72,124.17Z"/>
<path d="M361.14,124.62L362.64,126.49L361.14,128.36L359.65,126.49Z"/>
<path d="M363.07,124.62L364.56,126.49L363.07,128.36L361.57,126.49Z"/>
<path d="M364.99,126.93L366.49,128.80L364.99,130.67L363.49,128.80Z"/>
<path d="M366.91,126.93L368.41,128.80L366.91,130.67L365.42,128.80Z"/>
<path d="M368.84,126.93L370.33,128.80L368.84,130.67L367.34,128.80Z"/>
<path d="M370.76,126.93L372.26,128.80L370.76,130.67L369.27,128.80Z"/>
<path d="M372.69,126.93L374.18,128.80L372.69,130.67L371.19,128.80Z"/>
<path d="M374.61,126.93L376.10,128.80L374.61,130.67L373.11,128.80Z"/>
<path d="M376.53,126.93L378.03,128.80L376.53,130.67L375.04,128.80Z"/>
<path d="M378.46,124.62L379.95,126.49L378.46,128.36L376.96,126.49Z"/>
<path d="M380.38,124.62L381.88,126.49L380.38,128.36L378.88,126.49Z"/>
<path d="M382.30,119.99L383.80,121.86L382.30,123.73L380.81,121.86Z"/>
<path d="M384.23,117.67L385.72,119.54L384.23,121.41L382.73,119.54Z"/>
<path d="M386.15,115.35L387.65,117.22L386.15,119.09L384.66,117.22Z"/>
<path d="M388.08,110.72L389.57,112.59L388.08,114.46L386.58,112.59Z"/>
<path d="M390.00,106.09L391.50,107.96L390.00,109.83L388.50,107.96Z"/>
<path d="M391.92,101.46L393.42,103.33L391.92,105.20L390.43,103.33Z"/>
<path d="M393.85,96.83L395.34,98.70L393.85,100.57L392.35,98.70Z"/>
<path d="M395.77,92.19L397.27,94.06L395.77,95.93L394.27,94.06Z"/>
<path d="M397.69,87.56L399.19,89.43L397.69,91.30L396.20,89.43Z"/>
<path d="M399.62,82.93L401.11,84.80L399.62,86.67L398.12,84.80Z"/>
<path d="M401.54,75.98L403.04,77.85L401.54,79.72L400.05,77.85Z"/>
<path d="M403.47,69.03L404.96,70.90L403.47,72.77L401.97,70.90Z"/>
<path d="M405.39,62.09L406.89,63.96L405.39,65.83L403.89,63.96Z"/>
<path d="M407.31,55.14L408.81,57.01L407.31,58.88L405.82,57.01Z"/>
<path d="M409.24,50.51L410.73,52.38L409.24,54.25L407.74,52.38Z"/>
<path d="M411.16,48.19L412.66,50.06L411.16,51.93L409.66,50.06Z"/>
<path d="M413.08,45.87L414.58,47.74L413.08,49.61L411.59,47.74Z"/>
<path d="M415.01,41.24L416.50,43.11L415.01,44.98L413.51,43.11Z"/>
<path d="M416.93,41.24L418.43,43.11L416.93,44.98L415.44,43.11Z"/>
<path d="M418.86,41.24L420.35,43.11L418.86,44.98L417.36,43.11Z"/>
<path d="M420.78,41.24L422.28,43.11L420.78,44.98L419.28,43.11Z"/>
<path d="M422.70,50.51L424.20,52.38L422.70,54.25L421.21,52.38Z"/>
<path d="M424.63,57.45L426.12,59.32L424.63,61.19L423.13,59.32Z"/>
<path d="M426.55,64.40L428.05,66.27L426.55,68.14L425.06,66.27Z"/>
<path d="M428.48,71.35L429.97,73.22L428.48,75.09L426.98,73.22Z"/>
<path d="M430.40,75.98L431.89,77.85L430.40,79.72L428.90,77.85Z"/>
<path d="M432.32,85.25L433.82,87.12L432.32,88.99L430.83,87.12Z"/>
<path d="M434.25,94.51L435.74,96.38L434.25,98.25L432.75,96.38Z"/>
<path d="M436.17,101.46L437.67,103.33L436.17,105.20L434.67,103.33Z"/>
<path d="M438.09,110.72L439.59,112.59L438.09,114.46L436.60,112.59Z"/>
<path d="M440.02,117.67L441.51,119.54L440.02,121.41L438.52,119.54Z"/>
<path d="M441.94,124.62L443.44,126.49L441.94,128.36L440.45,126.49Z"/>
<path d="M443.87,133.88L445.36,135.75L443.87,137.62L442.37,135.75Z"/>
<path d="M445.79,138.51L447.29,140.38L445.79,142.25L444.29,140.38Z"/>
</g>
<path d="M309.20,140.38 L311.12,133.44 L313.05,128.80 L314.97,124.17 L316.90,119.54 L318.82,114.91 L320.74,112.59 L322.67,110.28 L324.59,107.96 L326.51,103.33 L328.44,103.33 L330.36,101.01 L332.29,101.01 L334.21,98.70 L336.13,98.70 L338.06,98.70 L339.98,101.01 L341.90,101.01 L343.83,101.01 L345.75,103.33 L347.68,105.64 L349.60,107.96 L351.52,107.96 L353.45,110.28 L355.37,112.59 L357.29,114.91 L359.22,117.22 L361.14,119.54 L363.07,121.86 L364.99,124.17 L366.91,124.17 L368.84,126.49 L370.76,126.49 L372.69,126.49 L374.61,126.49 L376.53,124.17 L378.46,124.17 L380.38,121.86 L382.30,119.54 L384.23,117.22 L386.15,114.91 L388.08,112.59 L390.00,110.28 L391.92,105.64 L393.85,101.01 L395.77,94.06 L397.69,89.43 L399.62,84.80 L401.54,80.17 L403.47,77.85 L405.39,75.54 L407.31,73.22 L409.24,70.90 L411.16,68.59 L413.08,66.27 L415.01,63.96 L416.93,61.64 L418.86,61.64 L420.78,61.64 L422.70,61.64 L424.63,63.96 L426.55,68.59 L428.48,73.22 L430.40,80.17 L432.32,89.43 L434.25,96.38 L436.17,103.33 L438.09,112.59 L440.02,119.54 L441.94,126.49 L443.87,135.75 L445.79,140.38 L447.71,140.38 L449.64,140.38 L451.56,138.07 L453.48,138.07 L455.41,138.07" fill="none" stroke="#1fa27e" stroke-width="1.20" stroke-linejoin="round"/>
<g fill="#1fa27e">
<path d="M309.20,142.33L311.00,139.09L307.40,139.09Z"/>
<path d="M311.12,135.38L312.92,132.14L309.32,132.14Z"/>
<path d="M313.05,130.75L314.85,127.51L311.25,127.51Z"/>
<path d="M314.97,126.12L316.77,122.88L313.17,122.88Z"/>
<path d="M316.90,121.48L318.70,118.24L315.10,118.24Z"/>
<path d="M318.82,116.85L320.62,113.61L317.02,113.61Z"/>
<path d="M320.74,114.54L322.54,111.30L318.94,111.30Z"/>
<path d="M322.67,112.22L324.47,108.98L320.87,108.98Z"/>
<path d="M324.59,109.90L326.39,106.66L322.79,106.66Z"/>
<path d="M326.51,105.27L328.31,102.03L324.71,102.03Z"/>
<path d="M328.44,105.27L330.24,102.03L326.64,102.03Z"/>
<path d="M330.36,102.96L332.16,99.72L328.56,99.72Z"/>
<path d="M332.29,102.96L334.09,99.72L330.49,99.72Z"/>
<path d="M334.21,100.64L336.01,97.40L332.41,97.40Z"/>
<path d="M336.13,100.64L337.93,97.40L334.33,97.40Z"/>
<path d="M338.06,100.64L339.86,97.40L336.26,97.40Z"/>
<path d="M339.98,102.96L341.78,99.72L338.18,99.72Z"/>
<path d="M341.90,102.96L343.70,99.72L340.10,99.72Z"/>
<path d="M343.83,102.96L345.63,99.72L342.03,99.72Z"/>
<path d="M345.75,105.27L347.55,102.03L343.95,102.03Z"/>
<path d="M347.68,107.59L349.48,104.35L345.88,104.35Z"/>
<path d="M349.60,109.90L351.40,106.66L347.80,106.66Z"/>
<path d="M351.52,109.90L353.32,106.66L349.72,106.66Z"/>
<path d="M353.45,112.22L355.25,108.98L351.65,108.98Z"/>
<path d="M355.37,114.54L357.17,111.30L353.57,111.30Z"/>
<path d="M357.29,116.85L359.09,113.61L355.49,113.61Z"/>
<path d="M359.22,119.17L361.02,115.93L357.42,115.93Z"/>
<path d="M361.14,121.48L362.94,118.24L359.34,118.24Z"/>
<path d="M363.07,123.80L364.87,120.56L361.27,120.56Z"/>
<path d="M364.99,126.12L366.79,122.88L363.19,122.88Z"/>
<path d="M366.91,126.12L368.71,122.88L365.11,122.88Z"/>
<path d="M368.84,128.43L370.64,125.19L367.04,125.19Z"/>
<path d="M370.76,128.43L372.56,125.19L368.96,125.19Z"/>
<path d="M372.69,128.43L374.49,125.19L370.89,125.19Z"/>
<path d="M374.61,128.43L376.41,125.19L372.81,125.19Z"/>
<path d="M376.53,126.12L378.33,122.88L374.73,122.88Z"/>
<path d="M378.46,126.12L380.26,122.88L376.66,122.88Z"/>
<path d="M380.38,123.80L382.18,120.56L378.58,120.56Z"/>
<path d="M382.30,121.48L384.10,118.24L380.50,118.24Z"/>
<path d="M384.23,119.17L386.03,115.93L382.43,115.93Z"/>
<path d="M386.15,116.85L387.95,113.61L384.35,113.61Z"/>
<path d="M388.08,114.54L389.88,111.30L386.28,111.30Z"/>
<path d="M390.00,112.22L391.80,108.98L388.20,108.98Z"/>
<path d="M391.92,107.59L393.72,104.35L390.12,104.35Z"/>
<path d="M393.85,102.96L395.65,99.72L392.05,99.72Z"/>
<path d="M395.77,96.01L397.57,92.77L393.97,92.77Z"/>
<path d="M397.69,91.38L399.49,88.14L395.89,88.14Z"/>
<path d="M399.62,86.74L401.42,83.50L397.82,83.50Z"/>
<path d="M401.54,82.11L403.34,78.87L399.74,78.87Z"/>
<path d="M403.47,79.80L405.27,76.56L401.67,76.56Z"/>
<path d="M405.39,77.48L407.19,74.24L403.59,74.24Z"/>
<path d="M407.31,75.16L409.11,71.92L405.51,71.92Z"/>
<path d="M409.24,72.85L411.04,69.61L407.44,69.61Z"/>
<path d="M411.16,70.53L412.96,67.29L409.36,67.29Z"/>
<path d="M413.08,68.22L414.88,64.98L411.28,64.98Z"/>
<path d="M415.01,65.90L416.81,62.66L413.21,62.66Z"/>
<path d="M416.93,63.58L418.73,60.34L415.13,60.34Z"/>
<path d="M418.86,63.58L420.66,60.34L417.06,60.34Z"/>
<path d="M420.78,63.58L422.58,60.34L418.98,60.34Z"/>
<path d="M422.70,63.58L424.50,60.34L420.90,60.34Z"/>
<path d="M424.63,65.90L426.43,62.66L422.83,62.66Z"/>
<path d="M426.55,70.53L428.35,67.29L424.75,67.29Z"/>
<path d="M428.48,75.16L430.28,71.92L426.68,71.92Z"/>
<path d="M430.40,82.11L432.20,78.87L428.60,78.87Z"/>
<path d="M432.32,91.38L434.12,88.14L430.52,88.14Z"/>
<path d="M434.25,98.32L436.05,95.08L432.45,95.08Z"/>
<path d="M436.17,105.27L437.97,102.03L434.37,102.03Z"/>
<path d="M438.09,114.54L439.89,111.30L436.29,111.30Z"/>
<path d="M440.02,121.48L441.82,118.24L438.22,118.24Z"/>
<path d="M441.94,128.43L443.74,125.19L440.14,125.19Z"/>
<path d="M443.87,137.70L445.67,134.46L442.07,134.46Z"/>
<path d="M445.79,142.33L447.59,139.09L443.99,139.09Z"/>
<path d="M447.71,142.33L449.51,139.09L445.91,139.09Z"/>
<path d="M449.64,142.33L451.44,139.09L447.84,139.09Z"/>
<path d="M451.56,140.01L453.36,136.77L449.76,136.77Z"/>
<path d="M453.48,140.01L455.28,136.77L451.68,136.77Z"/>
<path d="M455.41,140.01L457.21,136.77L453.61,136.77Z"/>
</g>
<path d="M309.20,138.07 L311.12,124.17 L313.05,117.22 L314.97,112.59 L316.90,105.64 L318.82,101.01 L320.74,96.38 L322.67,94.06 L324.59,91.75 L326.51,87.12 L328.44,87.12 L330.36,84.80 L332.29,80.17 L334.21,80.17 L336.13,80.17 L338.06,80.17 L339.98,80.17 L341.90,84.80 L343.83,87.12 L345.75,89.43 L347.68,91.75 L349.60,94.06 L351.52,96.38 L353.45,101.01 L355.37,103.33 L357.29,107.96 L359.22,110.28 L361.14,112.59 L363.07,117.22 L364.99,117.22 L366.91,119.54 L368.84,121.86 L370.76,121.86 L372.69,124.17 L374.61,124.17 L376.53,121.86 L378.46,121.86 L380.38,119.54 L382.30,117.22 L384.23,117.22 L386.15,114.91 L388.08,112.59 L390.00,110.28 L391.92,107.96 L393.85,105.64 L395.77,103.33 L397.69,101.01 L399.62,101.01 L401.54,101.01 L403.47,101.01 L405.39,98.70 L407.31,98.70 L409.24,96.38 L411.16,96.38 L413.08,96.38 L415.01,94.06 L416.93,91.75 L418.86,87.12 L420.78,84.80 L422.70,84.80 L424.63,84.80 L426.55,87.12 L428.48,89.43 L430.40,91.75 L432.32,96.38 L434.25,98.70 L436.17,105.64 L438.09,112.59 L440.02,119.54 L441.94,126.49 L443.87,135.75 L445.79,140.38 L447.71,142.70 L449.64,142.70 L451.56,142.70" fill="none" stroke="#22788c" stroke-width="1.10" stroke-linejoin="round"/>
<g fill="#22788c">
<path d="M309.20,136.12L311.00,139.36L307.40,139.36Z"/>
<path d="M311.12,122.23L312.92,125.47L309.32,125.47Z"/>
<path d="M313.05,115.28L314.85,118.52L311.25,118.52Z"/>
<path d="M314.97,110.65L316.77,113.89L313.17,113.89Z"/>
<path d="M316.90,103.70L318.70,106.94L315.10,106.94Z"/>
<path d="M318.82,99.07L320.62,102.31L317.02,102.31Z"/>
<path d="M320.74,94.44L322.54,97.68L318.94,97.68Z"/>
<path d="M322.67,92.12L324.47,95.36L320.87,95.36Z"/>
<path d="M324.59,89.80L326.39,93.04L322.79,93.04Z"/>
<path d="M326.51,85.17L328.31,88.41L324.71,88.41Z"/>
<path d="M328.44,85.17L330.24,88.41L326.64,88.41Z"/>
<path d="M330.36,82.86L332.16,86.10L328.56,86.10Z"/>
<path d="M332.29,78.22L334.09,81.46L330.49,81.46Z"/>
<path d="M334.21,78.22L336.01,81.46L332.41,81.46Z"/>
<path d="M336.13,78.22L337.93,81.46L334.33,81.46Z"/>
<path d="M338.06,78.22L339.86,81.46L336.26,81.46Z"/>
<path d="M339.98,78.22L341.78,81.46L338.18,81.46Z"/>
<path d="M341.90,82.86L343.70,86.10L340.10,86.10Z"/>
<path d="M343.83,85.17L345.63,88.41L342.03,88.41Z"/>
<path d="M345.75,87.49L347.55,90.73L343.95,90.73Z"/>
<path d="M347.68,89.80L349.48,93.04L345.88,93.04Z"/>
<path d="M349.60,92.12L351.40,95.36L347.80,95.36Z"/>
<path d="M351.52,94.44L353.32,97.68L349.72,97.68Z"/>
<path d="M353.45,99.07L355.25,102.31L351.65,102.31Z"/>
<path d="M355.37,101.38L357.17,104.62L353.57,104.62Z"/>
<path d="M357.29,106.02L359.09,109.26L355.49,109.26Z"/>
<path d="M359.22,108.33L361.02,111.57L357.42,111.57Z"/>
<path d="M361.14,110.65L362.94,113.89L359.34,113.89Z"/>
<path d="M363.07,115.28L364.87,118.52L361.27,118.52Z"/>
<path d="M364.99,115.28L366.79,118.52L363.19,118.52Z"/>
<path d="M366.91,117.60L368.71,120.84L365.11,120.84Z"/>
<path d="M368.84,119.91L370.64,123.15L367.04,123.15Z"/>
<path d="M370.76,119.91L372.56,123.15L368.96,123.15Z"/>
<path d="M372.69,122.23L374.49,125.47L370.89,125.47Z"/>
<path d="M374.61,122.23L376.41,125.47L372.81,125.47Z"/>
<path d="M376.53,119.91L378.33,123.15L374.73,123.15Z"/>
<path d="M378.46,119.91L380.26,123.15L376.66,123.15Z"/>
<path d="M380.38,117.60L382.18,120.84L378.58,120.84Z"/>
<path d="M382.30,115.28L384.10,118.52L380.50,118.52Z"/>
<path d="M384.23,115.28L386.03,118.52L382.43,118.52Z"/>
<path d="M386.15,112.96L387.95,116.20L384.35,116.20Z"/>
<path d="M388.08,110.65L389.88,113.89L386.28,113.89Z"/>
<path d="M390.00,108.33L391.80,111.57L388.20,111.57Z"/>
<path d="M391.92,106.02L393.72,109.26L390.12,109.26Z"/>
<path d="M393.85,103.70L395.65,106.94L392.05,106.94Z"/>
<path d="M395.77,101.38L397.57,104.62L393.97,104.62Z"/>
<path d="M397.69,99.07L399.49,102.31L395.89,102.31Z"/>
<path d="M399.62,99.07L401.42,102.31L397.82,102.31Z"/>
<path d="M401.54,99.07L403.34,102.31L399.74,102.31Z"/>
<path d="M403.47,99.07L405.27,102.31L401.67,102.31Z"/>
<path d="M405.39,96.75L407.19,99.99L403.59,99.99Z"/>
<path d="M407.31,96.75L409.11,99.99L405.51,99.99Z"/>
<path d="M409.24,94.44L411.04,97.68L407.44,97.68Z"/>
<path d="M411.16,94.44L412.96,97.68L409.36,97.68Z"/>
<path d="M413.08,94.44L414.88,97.68L411.28,97.68Z"/>
<path d="M415.01,92.12L416.81,95.36L413.21,95.36Z"/>
<path d="M416.93,89.80L418.73,93.04L415.13,93.04Z"/>
<path d="M418.86,85.17L420.66,88.41L417.06,88.41Z"/>
<path d="M420.78,82.86L422.58,86.10L418.98,86.10Z"/>
<path d="M422.70,82.86L424.50,86.10L420.90,86.10Z"/>
<path d="M424.63,82.86L426.43,86.10L422.83,86.10Z"/>
<path d="M426.55,85.17L428.35,88.41L424.75,88.41Z"/>
<path d="M428.48,87.49L430.28,90.73L426.68,90.73Z"/>
<path d="M430.40,89.80L432.20,93.04L428.60,93.04Z"/>
<path d="M432.32,94.44L434.12,97.68L430.52,97.68Z"/>
<path d="M434.25,96.75L436.05,99.99L432.45,99.99Z"/>
<path d="M436.17,103.70L437.97,106.94L434.37,106.94Z"/>
<path d="M438.09,110.65L439.89,113.89L436.29,113.89Z"/>
<path d="M440.02,117.60L441.82,120.84L438.22,120.84Z"/>
<path d="M441.94,124.54L443.74,127.78L440.14,127.78Z"/>
<path d="M443.87,133.81L445.67,137.05L442.07,137.05Z"/>
<path d="M445.79,138.44L447.59,141.68L443.99,141.68Z"/>
<path d="M447.71,140.76L449.51,144.00L445.91,144.00Z"/>
<path d="M449.64,140.76L451.44,144.00L447.84,144.00Z"/>
<path d="M451.56,140.76L453.36,144.00L449.76,144.00Z"/>
</g>
<path d="M309.20,140.38 L311.12,131.12 L313.05,126.49 L314.97,119.54 L316.90,112.59 L318.82,107.96 L320.74,103.33 L322.67,101.01 L324.59,98.70 L326.51,96.38 L328.44,94.06 L330.36,91.75 L332.29,89.43 L334.21,89.43 L336.13,89.43 L338.06,89.43 L339.98,89.43 L341.90,89.43 L343.83,89.43 L345.75,89.43 L347.68,91.75 L349.60,94.06 L351.52,96.38 L353.45,98.70 L355.37,103.33 L357.29,105.64 L359.22,110.28 L361.14,112.59 L363.07,114.91 L364.99,117.22 L366.91,119.54 L368.84,119.54 L370.76,121.86 L372.69,121.86 L374.61,121.86 L376.53,121.86 L378.46,121.86 L380.38,121.86 L382.30,119.54 L384.23,117.22 L386.15,114.91 L388.08,114.91 L390.00,112.59 L391.92,110.28 L393.85,107.96 L395.77,105.64 L397.69,103.33 L399.62,101.01 L401.54,98.70 L403.47,98.70 L405.39,96.38 L407.31,94.06 L409.24,91.75 L411.16,89.43 L413.08,84.80 L415.01,80.17 L416.93,77.85 L418.86,75.54 L420.78,73.22 L422.70,73.22 L424.63,73.22 L426.55,75.54 L428.48,77.85 L430.40,84.80 L432.32,91.75 L434.25,96.38 L436.17,103.33 L438.09,112.59 L440.02,119.54 L441.94,126.49 L443.87,135.75 L445.79,142.70 L447.71,142.70 L449.64,142.70 L451.56,142.70 L453.48,142.70 L455.41,142.70" fill="none" stroke="#3d3b93" stroke-width="1.10" stroke-linejoin="round"/>
<g fill="#3d3b93">
<rect x="307.60" y="138.78" width="3.20" height="3.20"/>
<rect x="309.52" y="129.52" width="3.20" height="3.20"/>
<rect x="311.45" y="124.89" width="3.20" height="3.20"/>
<rect x="313.37" y="117.94" width="3.20" height="3.20"/>
<rect x="315.30" y="110.99" width="3.20" height="3.20"/>
<rect x="317.22" y="106.36" width="3.20" height="3.20"/>
<rect x="319.14" y="101.73" width="3.20" height="3.20"/>
<rect x="321.07" y="99.41" width="3.20" height="3.20"/>
<rect x="322.99" y="97.10" width="3.20" height="3.20"/>
<rect x="324.91" y="94.78" width="3.20" height="3.20"/>
<rect x="326.84" y="92.46" width="3.20" height="3.20"/>
<rect x="328.76" y="90.15" width="3.20" height="3.20"/>
<rect x="330.69" y="87.83" width="3.20" height="3.20"/>
<rect x="332.61" y="87.83" width="3.20" height="3.20"/>
<rect x="334.53" y="87.83" width="3.20" height="3.20"/>
<rect x="336.46" y="87.83" width="3.20" height="3.20"/>
<rect x="338.38" y="87.83" width="3.20" height="3.20"/>
<rect x="340.30" y="87.83" width="3.20" height="3.20"/>
<rect x="342.23" y="87.83" width="3.20" height="3.20"/>
<rect x="344.15" y="87.83" width="3.20" height="3.20"/>
<rect x="346.08" y="90.15" width="3.20" height="3.20"/>
<rect x="348.00" y="92.46" width="3.20" height="3.20"/>
<rect x="349.92" y="94.78" width="3.20" height="3.20"/>
<rect x="351.85" y="97.10" width="3.20" height="3.20"/>
<rect x="353.77" y="101.73" width="3.20" height="3.20"/>
<rect x="355.69" y="104.04" width="3.20" height="3.20"/>
<rect x="357.62" y="108.68" width="3.20" height="3.20"/>
<rect x="359.54" y="110.99" width="3.20" height="3.20"/>
<rect x="361.47" y="113.31" width="3.20" height="3.20"/>
<rect x="363.39" y="115.62" width="3.20" height="3.20"/>
<rect x="365.31" y="117.94" width="3.20" height="3.20"/>
<rect x="367.24" y="117.94" width="3.20" height="3.20"/>
<rect x="369.16" y="120.26" width="3.20" height="3.20"/>
<rect x="371.09" y="120.26" width="3.20" height="3.20"/>
<rect x="373.01" y="120.26" width="3.20" height="3.20"/>
<rect x="374.93" y="120.26" width="3.20" height="3.20"/>
<rect x="376.86" y="120.26" width="3.20" height="3.20"/>
<rect x="378.78" y="120.26" width="3.20" height="3.20"/>
<rect x="380.70" y="117.94" width="3.20" height="3.20"/>
<rect x="382.63" y="115.62" width="3.20" height="3.20"/>
<rect x="384.55" y="113.31" width="3.20" height="3.20"/>
<rect x="386.48" y="113.31" width="3.20" height="3.20"/>
<rect x="388.40" y="110.99" width="3.20" height="3.20"/>
<rect x="390.32" y="108.68" width="3.20" height="3.20"/>
<rect x="392.25" y="106.36" width="3.20" height="3.20"/>
<rect x="394.17" y="104.04" width="3.20" height="3.20"/>
<rect x="396.09" y="101.73" width="3.20" height="3.20"/>
<rect x="398.02" y="99.41" width="3.20" height="3.20"/>
<rect x="399.94" y="97.10" width="3.20" height="3.20"/>
<rect x="401.87" y="97.10" width="3.20" height="3.20"/>
<rect x="403.79" y="94.78" width="3.20" height="3.20"/>
<rect x="405.71" y="92.46" width="3.20" height="3.20"/>
<rect x="407.64" y="90.15" width="3.20" height="3.20"/>
<rect x="409.56" y="87.83" width="3.20" height="3.20"/>
<rect x="411.48" y="83.20" width="3.20" height="3.20"/>
<rect x="413.41" y="78.57" width="3.20" height="3.20"/>
<rect x="415.33" y="76.25" width="3.20" height="3.20"/>
<rect x="417.26" y="73.94" width="3.20" height="3.20"/>
<rect x="419.18" y="71.62" width="3.20" height="3.20"/>
<rect x="421.10" y="71.62" width="3.20" height="3.20"/>
<rect x="423.03" y="71.62" width="3.20" height="3.20"/>
<rect x="424.95" y="73.94" width="3.20" height="3.20"/>
<rect x="426.88" y="76.25" width="3.20" height="3.20"/>
<rect x="428.80" y="83.20" width="3.20" height="3.20"/>
<rect x="430.72" y="90.15" width="3.20" height="3.20"/>
<rect x="432.65" y="94.78" width="3.20" height="3.20"/>
<rect x="434.57" y="101.73" width="3.20" height="3.20"/>
<rect x="436.49" y="110.99" width="3.20" height="3.20"/>
<rect x="438.42" y="117.94" width="3.20" height="3.20"/>
<rect x="440.34" y="124.89" width="3.20" height="3.20"/>
<rect x="442.27" y="134.15" width="3.20" height="3.20"/>
<rect x="444.19" y="141.10" width="3.20" height="3.20"/>
<rect x="446.11" y="141.10" width="3.20" height="3.20"/>
<rect x="448.04" y="141.10" width="3.20" height="3.20"/>
<rect x="449.96" y="141.10" width="3.20" height="3.20"/>
<rect x="451.88" y="141.10" width="3.20" height="3.20"/>
<rect x="453.81" y="141.10" width="3.20" height="3.20"/>
</g>
<path d="M52.20,323.36 L52.70,322.42 L53.20,321.49 L53.70,320.57 L54.20,319.68 L54.70,318.81 L55.20,317.97 L55.70,317.15 L56.20,316.36 L56.70,315.60 L57.20,314.88 L57.70,314.18 L58.20,313.49 L58.70,312.83 L59.20,312.17 L59.70,311.52 L60.20,310.88 L60.70,310.22 L61.20,309.56 L61.70,308.88 L62.20,308.19 L62.70,307.47 L63.20,306.73 L63.70,305.98 L64.20,305.24 L64.70,304.49 L65.20,303.75 L65.70,303.03 L66.20,302.33 L66.70,301.66 L67.20,301.02 L67.70,300.42 L68.20,299.83 L68.70,299.24 L69.20,298.66 L69.70,298.10 L70.20,297.56 L70.70,297.04 L71.20,296.54 L71.70,296.06 L72.20,295.61 L72.70,295.20 L73.20,294.81 L73.70,294.42 L74.20,294.02 L74.70,293.62 L75.20,293.23 L75.70,292.85 L76.20,292.49 L76.70,292.16 L77.20,291.86 L77.70,291.61 L78.20,291.40 L78.70,291.26 L79.20,291.18 L79.70,291.17 L80.20,291.19 L80.70,291.24 L81.20,291.31 L81.70,291.39 L82.20,291.50 L82.70,291.62 L83.20,291.76 L83.70,291.91 L84.20,292.08 L84.70,292.25 L85.20,292.45 L85.70,292.73 L86.20,293.09 L86.70,293.52 L87.20,294.04 L87.70,294.66 L88.20,295.66 L88.70,297.09 L89.20,298.77 L89.70,300.56 L90.20,302.29 L90.70,303.84 L91.20,305.33 L91.70,306.82 L92.20,308.31 L92.70,309.80 L93.20,311.29 L93.70,312.79 L94.20,314.34 L94.70,315.91 L95.20,317.47 L95.70,318.97 L96.20,320.36 L96.70,321.64 L97.20,323.05 L97.70,324.38 L98.20,325.33 L98.70,325.60 L99.20,325.60 L99.70,325.60 L100.20,325.60 L100.70,325.60 L101.20,325.60 L101.70,325.60 L102.20,325.60 L102.70,325.60 L103.20,325.60 L103.70,325.60 L104.20,325.60 L104.70,325.60 L105.20,325.60 L105.70,325.60 L106.20,325.39 L106.70,323.42 L107.20,320.52 L107.70,317.90 L108.20,315.21 L108.70,312.37 L109.20,309.55 L109.70,306.91 L110.20,304.58 L110.70,302.39 L111.20,300.29 L111.70,298.28 L112.20,296.33 L112.70,294.45 L113.20,292.63 L113.70,290.87 L114.20,289.15 L114.70,287.46 L115.20,285.82 L115.70,284.27 L116.20,282.80 L116.70,281.39 L117.20,280.03 L117.70,278.67 L118.20,277.30 L118.70,275.90 L119.20,274.45 L119.70,272.91 L120.20,271.27 L120.70,269.54 L121.20,267.73 L121.70,265.85 L122.20,263.92 L122.70,261.95 L123.20,259.94 L123.70,257.90 L124.20,255.86 L124.70,253.80 L125.20,251.76 L125.70,249.73 L126.20,247.73 L126.70,245.77 L127.20,243.70 L127.70,241.42 L128.20,239.10 L128.70,236.87 L129.20,234.85 L129.70,233.21 L130.20,232.07 L130.70,231.35 L131.20,230.70 L131.70,230.14 L132.20,229.68 L132.70,229.37 L133.20,229.23 L133.70,229.40 L134.20,230.06 L134.70,231.13 L135.20,232.53 L135.70,234.16 L136.20,235.94 L136.70,238.47 L137.20,242.16 L137.70,246.61 L138.20,251.45 L138.70,256.28 L139.20,261.10 L139.70,266.19 L140.20,271.65 L140.70,277.55 L141.20,283.99 L141.70,292.02 L142.20,302.26 L142.70,312.19 L143.20,319.19 L143.70,322.70 L144.20,325.12 L144.70,325.60 L145.20,325.60 L145.70,325.60 L146.20,325.60 L146.70,325.60 L147.20,325.60 L147.70,325.60 L148.20,325.60 L148.70,325.60 L149.20,325.60 L149.70,325.60 L150.20,325.60 L150.70,325.60 L151.20,325.60 L151.70,325.60 L152.20,325.60 L152.70,325.60 L153.20,325.60 L153.70,325.60 L154.20,325.60 L154.70,325.60 L155.20,325.60 L155.70,325.60 L156.20,325.60 L156.70,325.60 L157.20,325.60 L157.70,325.60 L158.20,325.60 L158.70,325.60 L159.20,325.60 L159.70,325.60 L160.20,325.60 L160.70,325.60 L161.20,325.60 L161.70,325.60 L162.20,325.60 L162.70,325.60 L163.20,325.60 L163.70,325.60 L164.20,325.60 L164.70,325.60 L165.20,325.60 L165.70,325.60 L166.20,325.60 L166.70,325.60 L167.20,325.60 L167.70,325.60 L168.20,325.60 L168.70,325.60 L169.20,325.60 L169.70,325.60 L170.20,325.60 L170.70,325.60 L171.20,325.60 L171.70,325.60 L172.20,325.60 L172.70,325.60 L173.20,325.60 L173.70,325.60 L174.20,325.60 L174.70,325.60 L175.20,325.60 L175.70,325.60 L176.20,325.60 L176.70,325.60 L177.20,325.60 L177.70,325.60 L178.20,325.60 L178.70,325.60 L179.20,325.60 L179.70,325.60 L180.20,325.60 L180.70,325.60 L181.20,325.60 L181.70,325.60 L182.20,325.60 L182.70,325.60 L183.20,325.60 L183.70,325.60 L184.20,325.60 L184.70,325.60 L185.20,325.60 L185.70,325.60" fill="none" stroke="#d890f0" stroke-width="0.70" stroke-linejoin="round"/>
<g fill="#d890f0">
<path d="M52.20,325.25L53.95,322.10L50.45,322.10Z"/>
<path d="M53.53,322.77L55.28,319.62L51.78,319.62Z"/>
<path d="M54.86,320.43L56.61,317.28L53.11,317.28Z"/>
<path d="M56.19,318.27L57.94,315.12L54.44,315.12Z"/>
<path d="M57.52,316.31L59.27,313.16L55.77,313.16Z"/>
<path d="M58.85,314.52L60.60,311.37L57.10,311.37Z"/>
<path d="M60.18,312.79L61.93,309.64L58.43,309.64Z"/>
<path d="M61.51,311.03L63.26,307.88L59.76,307.88Z"/>
<path d="M62.84,309.14L64.59,305.99L61.09,305.99Z"/>
<path d="M64.18,307.16L65.93,304.01L62.43,304.01Z"/>
<path d="M65.51,305.20L67.26,302.05L63.76,302.05Z"/>
<path d="M66.84,303.37L68.59,300.22L65.09,300.22Z"/>
<path d="M68.17,301.76L69.92,298.61L66.42,298.61Z"/>
<path d="M69.50,300.22L71.25,297.07L67.75,297.07Z"/>
<path d="M70.83,298.80L72.58,295.65L69.08,295.65Z"/>
<path d="M72.16,297.54L73.91,294.39L70.41,294.39Z"/>
<path d="M73.49,296.48L75.24,293.33L71.74,293.33Z"/>
<path d="M74.82,295.42L76.57,292.27L73.07,292.27Z"/>
<path d="M76.15,294.41L77.90,291.26L74.40,291.26Z"/>
<path d="M77.48,293.60L79.23,290.45L75.73,290.45Z"/>
<path d="M78.81,293.13L80.56,289.98L77.06,289.98Z"/>
<path d="M80.14,293.08L81.89,289.93L78.39,289.93Z"/>
<path d="M81.47,293.24L83.22,290.09L79.72,290.09Z"/>
<path d="M82.80,293.54L84.55,290.39L81.05,290.39Z"/>
<path d="M84.13,293.94L85.88,290.79L82.38,290.79Z"/>
<path d="M85.46,294.48L87.21,291.33L83.71,291.33Z"/>
<path d="M86.79,295.51L88.54,292.36L85.04,292.36Z"/>
<path d="M88.13,297.37L89.88,294.22L86.38,294.22Z"/>
<path d="M89.46,301.58L91.21,298.43L87.71,298.43Z"/>
<path d="M90.79,305.99L92.54,302.84L89.04,302.84Z"/>
<path d="M92.12,309.96L93.87,306.81L90.37,306.81Z"/>
<path d="M93.45,313.92L95.20,310.77L91.70,310.77Z"/>
<path d="M94.78,318.05L96.53,314.90L93.03,314.90Z"/>
<path d="M96.11,322.01L97.86,318.86L94.36,318.86Z"/>
<path d="M97.44,325.61L99.19,322.46L95.69,322.46Z"/>
<path d="M98.77,327.49L100.52,324.34L97.02,324.34Z"/>
<path d="M100.10,327.49L101.85,324.34L98.35,324.34Z"/>
<path d="M101.43,327.49L103.18,324.34L99.68,324.34Z"/>
<path d="M102.76,327.49L104.51,324.34L101.01,324.34Z"/>
<path d="M104.09,327.49L105.84,324.34L102.34,324.34Z"/>
<path d="M105.42,327.49L107.17,324.34L103.67,324.34Z"/>
<path d="M106.75,325.02L108.50,321.87L105.00,321.87Z"/>
<path d="M108.08,317.74L109.83,314.59L106.33,314.59Z"/>
<path d="M109.41,310.28L111.16,307.13L107.66,307.13Z"/>
<path d="M110.75,304.09L112.50,300.94L109.00,300.94Z"/>
<path d="M112.08,298.70L113.83,295.55L110.33,295.55Z"/>
<path d="M113.41,293.79L115.16,290.64L111.66,290.64Z"/>
<path d="M114.74,289.23L116.49,286.08L112.99,286.08Z"/>
<path d="M116.07,285.07L117.82,281.92L114.32,281.92Z"/>
<path d="M117.40,281.38L119.15,278.23L115.65,278.23Z"/>
<path d="M118.73,277.71L120.48,274.56L116.98,274.56Z"/>
<path d="M120.06,273.63L121.81,270.48L118.31,270.48Z"/>
<path d="M121.39,268.91L123.14,265.76L119.64,265.76Z"/>
<path d="M122.72,263.76L124.47,260.61L120.97,260.61Z"/>
<path d="M124.05,258.36L125.80,255.21L122.30,255.21Z"/>
<path d="M125.38,252.91L127.13,249.76L123.63,249.76Z"/>
<path d="M126.71,247.62L128.46,244.47L124.96,244.47Z"/>
<path d="M128.04,241.72L129.79,238.57L126.29,238.57Z"/>
<path d="M129.37,236.13L131.12,232.98L127.62,232.98Z"/>
<path d="M130.70,233.24L132.45,230.09L128.95,230.09Z"/>
<path d="M132.03,231.71L133.78,228.56L130.28,228.56Z"/>
<path d="M133.37,231.12L135.12,227.97L131.62,227.97Z"/>
<path d="M134.70,233.01L136.45,229.86L132.95,229.86Z"/>
<path d="M136.03,237.20L137.78,234.05L134.28,234.05Z"/>
<path d="M137.36,245.38L139.11,242.23L135.61,242.23Z"/>
<path d="M138.69,258.06L140.44,254.91L136.94,254.91Z"/>
<path d="M140.02,271.51L141.77,268.36L138.27,268.36Z"/>
<path d="M141.35,287.93L143.10,284.78L139.60,284.78Z"/>
<path d="M142.68,313.71L144.43,310.56L140.93,310.56Z"/>
<path d="M144.01,326.28L145.76,323.13L142.26,323.13Z"/>
<path d="M145.34,327.49L147.09,324.34L143.59,324.34Z"/>
<path d="M146.67,327.49L148.42,324.34L144.92,324.34Z"/>
<path d="M148.00,327.49L149.75,324.34L146.25,324.34Z"/>
<path d="M149.33,327.49L151.08,324.34L147.58,324.34Z"/>
<path d="M150.66,327.49L152.41,324.34L148.91,324.34Z"/>
<path d="M151.99,327.49L153.74,324.34L150.24,324.34Z"/>
<path d="M153.32,327.49L155.07,324.34L151.57,324.34Z"/>
<path d="M154.65,327.49L156.40,324.34L152.90,324.34Z"/>
<path d="M155.98,327.49L157.73,324.34L154.23,324.34Z"/>
<path d="M157.32,327.49L159.07,324.34L155.57,324.34Z"/>
<path d="M158.65,327.49L160.40,324.34L156.90,324.34Z"/>
<path d="M159.98,327.49L161.73,324.34L158.23,324.34Z"/>
<path d="M161.31,327.49L163.06,324.34L159.56,324.34Z"/>
<path d="M162.64,327.49L164.39,324.34L160.89,324.34Z"/>
<path d="M163.97,327.49L165.72,324.34L162.22,324.34Z"/>
<path d="M165.30,327.49L167.05,324.34L163.55,324.34Z"/>
<path d="M166.63,327.49L168.38,324.34L164.88,324.34Z"/>
<path d="M167.96,327.49L169.71,324.34L166.21,324.34Z"/>
<path d="M169.29,327.49L171.04,324.34L167.54,324.34Z"/>
<path d="M170.62,327.49L172.37,324.34L168.87,324.34Z"/>
<path d="M171.95,327.49L173.70,324.34L170.20,324.34Z"/>
<path d="M173.28,327.49L175.03,324.34L171.53,324.34Z"/>
<path d="M174.61,327.49L176.36,324.34L172.86,324.34Z"/>
<path d="M175.94,327.49L177.69,324.34L174.19,324.34Z"/>
<path d="M177.27,327.49L179.02,324.34L175.52,324.34Z"/>
<path d="M178.60,327.49L180.35,324.34L176.85,324.34Z"/>
<path d="M179.94,327.49L181.69,324.34L178.19,324.34Z"/>
<path d="M181.27,327.49L183.02,324.34L179.52,324.34Z"/>
<path d="M182.60,327.49L184.35,324.34L180.85,324.34Z"/>
<path d="M183.93,327.49L185.68,324.34L182.18,324.34Z"/>
<path d="M185.26,327.49L187.01,324.34L183.51,324.34Z"/>
</g>
<g fill="#3f0a55">
<circle cx="52.20" cy="325.60" r="1.70"/>
<circle cx="53.53" cy="324.30" r="1.70"/>
<circle cx="54.86" cy="323.06" r="1.70"/>
<circle cx="56.19" cy="321.89" r="1.70"/>
<circle cx="57.52" cy="320.84" r="1.70"/>
<circle cx="58.85" cy="319.90" r="1.70"/>
<circle cx="60.18" cy="318.95" r="1.70"/>
<circle cx="61.51" cy="317.89" r="1.70"/>
<circle cx="62.84" cy="316.63" r="1.70"/>
<circle cx="64.18" cy="315.16" r="1.70"/>
<circle cx="65.51" cy="313.58" r="1.70"/>
<circle cx="66.84" cy="311.96" r="1.70"/>
<circle cx="68.17" cy="310.36" r="1.70"/>
<circle cx="69.50" cy="308.67" r="1.70"/>
<circle cx="70.83" cy="306.97" r="1.70"/>
<circle cx="72.16" cy="305.32" r="1.70"/>
<circle cx="73.49" cy="303.82" r="1.70"/>
<circle cx="74.82" cy="302.37" r="1.70"/>
<circle cx="76.15" cy="300.98" r="1.70"/>
<circle cx="77.48" cy="299.71" r="1.70"/>
<circle cx="78.81" cy="298.60" r="1.70"/>
<circle cx="80.14" cy="297.45" r="1.70"/>
<circle cx="81.47" cy="296.46" r="1.70"/>
<circle cx="82.80" cy="296.09" r="1.70"/>
<circle cx="84.13" cy="296.37" r="1.70"/>
<circle cx="85.46" cy="297.05" r="1.70"/>
<circle cx="86.79" cy="298.01" r="1.70"/>
<circle cx="88.13" cy="300.04" r="1.70"/>
<circle cx="89.46" cy="303.15" r="1.70"/>
<circle cx="90.79" cy="306.20" r="1.70"/>
<circle cx="92.12" cy="309.34" r="1.70"/>
<circle cx="93.45" cy="311.91" r="1.70"/>
<circle cx="94.78" cy="314.37" r="1.70"/>
<circle cx="96.11" cy="317.98" r="1.70"/>
<circle cx="97.44" cy="322.21" r="1.70"/>
<circle cx="98.77" cy="325.28" r="1.70"/>
<circle cx="100.10" cy="325.60" r="1.70"/>
<circle cx="101.43" cy="325.60" r="1.70"/>
<circle cx="102.76" cy="325.60" r="1.70"/>
<circle cx="104.09" cy="325.60" r="1.70"/>
<circle cx="105.42" cy="325.60" r="1.70"/>
<circle cx="106.75" cy="324.40" r="1.70"/>
<circle cx="108.08" cy="319.90" r="1.70"/>
<circle cx="109.41" cy="315.36" r="1.70"/>
<circle cx="110.75" cy="308.22" r="1.70"/>
<circle cx="112.08" cy="302.22" r="1.70"/>
<circle cx="113.41" cy="296.38" r="1.70"/>
<circle cx="114.74" cy="292.38" r="1.70"/>
<circle cx="116.07" cy="287.44" r="1.70"/>
<circle cx="117.40" cy="283.43" r="1.70"/>
<circle cx="118.73" cy="277.46" r="1.70"/>
<circle cx="120.06" cy="272.83" r="1.70"/>
<circle cx="121.39" cy="267.73" r="1.70"/>
<circle cx="122.72" cy="262.42" r="1.70"/>
<circle cx="124.05" cy="256.90" r="1.70"/>
<circle cx="125.38" cy="251.23" r="1.70"/>
<circle cx="126.71" cy="245.73" r="1.70"/>
<circle cx="128.04" cy="239.76" r="1.70"/>
<circle cx="129.37" cy="234.21" r="1.70"/>
<circle cx="130.70" cy="231.35" r="1.70"/>
<circle cx="132.03" cy="229.82" r="1.70"/>
<circle cx="133.37" cy="229.23" r="1.70"/>
<circle cx="134.70" cy="231.20" r="1.70"/>
<circle cx="136.03" cy="235.34" r="1.70"/>
<circle cx="137.36" cy="241.94" r="1.70"/>
<circle cx="138.69" cy="251.50" r="1.70"/>
<circle cx="140.02" cy="262.41" r="1.70"/>
<circle cx="141.35" cy="274.62" r="1.70"/>
<circle cx="142.68" cy="287.50" r="1.70"/>
<circle cx="144.01" cy="299.14" r="1.70"/>
<circle cx="145.34" cy="307.45" r="1.70"/>
<circle cx="146.67" cy="313.14" r="1.70"/>
<circle cx="148.00" cy="317.81" r="1.70"/>
<circle cx="149.33" cy="320.42" r="1.70"/>
<circle cx="150.66" cy="320.61" r="1.70"/>
<circle cx="151.99" cy="320.35" r="1.70"/>
<circle cx="153.32" cy="320.24" r="1.70"/>
<circle cx="154.65" cy="320.35" r="1.70"/>
<circle cx="155.98" cy="320.59" r="1.70"/>
<circle cx="157.32" cy="321.21" r="1.70"/>
<circle cx="158.65" cy="322.52" r="1.70"/>
<circle cx="159.98" cy="323.61" r="1.70"/>
<circle cx="161.31" cy="324.60" r="1.70"/>
<circle cx="162.64" cy="325.50" r="1.70"/>
<circle cx="163.97" cy="325.60" r="1.70"/>
<circle cx="165.30" cy="325.60" r="1.70"/>
<circle cx="166.63" cy="325.60" r="1.70"/>
<circle cx="167.96" cy="325.60" r="1.70"/>
<circle cx="169.29" cy="325.60" r="1.70"/>
<circle cx="170.62" cy="325.60" r="1.70"/>
<circle cx="171.95" cy="325.60" r="1.70"/>
<circle cx="173.28" cy="325.60" r="1.70"/>
<circle cx="174.61" cy="325.60" r="1.70"/>
<circle cx="175.94" cy="325.60" r="1.70"/>
<circle cx="177.27" cy="325.60" r="1.70"/>
<circle cx="178.60" cy="325.60" r="1.70"/>
<circle cx="179.94" cy="325.60" r="1.70"/>
<circle cx="181.27" cy="325.60" r="1.70"/>
<circle cx="182.60" cy="325.60" r="1.70"/>
<circle cx="183.93" cy="325.60" r="1.70"/>
<circle cx="185.26" cy="325.60" r="1.70"/>
</g>
<path d="M230.20,34.80H242.70" stroke="#3d3b93" stroke-width="1.30"/>
<g fill="#3d3b93"><rect x="234.85" y="33.20" width="3.20" height="3.20"/></g>
<text x="250.00" y="38.10" font-family='"Liberation Sans", sans-serif' font-size="9" fill="#1a1a1a">E5</text>
<path d="M230.20,50.50H242.70" stroke="#22788c" stroke-width="1.30"/>
<g fill="#22788c"><path d="M236.45,48.56L238.25,51.80L234.65,51.80Z"/></g>
<text x="250.00" y="53.80" font-family='"Liberation Sans", sans-serif' font-size="9" fill="#1a1a1a">E10</text>
<path d="M230.20,66.10H242.70" stroke="#1fa27e" stroke-width="1.40"/>
<g fill="#1fa27e"><path d="M236.45,68.04L238.25,64.80L234.65,64.80Z"/></g>
<text x="250.00" y="69.40" font-family='"Liberation Sans", sans-serif' font-size="9" fill="#1a1a1a">E15</text>
<path d="M230.20,81.90H242.70" stroke="#5fcb45" stroke-width="1.80"/>
<g fill="#5fcb45"><path d="M236.45,80.03L237.95,81.90L236.45,83.77L234.95,81.90Z"/></g>
<text x="250.00" y="85.20" font-family='"Liberation Sans", sans-serif' font-size="9" fill="#1a1a1a">E20</text>
<path d="M509.40,34.60H521.90" stroke="#3d3b93" stroke-width="1.30"/>
<g fill="#3d3b93"><rect x="514.05" y="33.00" width="3.20" height="3.20"/></g>
<text x="528.90" y="37.90" font-family='"Liberation Sans", sans-serif' font-size="9" fill="#1a1a1a">E5</text>
<path d="M509.40,50.60H521.90" stroke="#22788c" stroke-width="1.30"/>
<g fill="#22788c"><path d="M515.65,48.66L517.45,51.90L513.85,51.90Z"/></g>
<text x="528.90" y="53.90" font-family='"Liberation Sans", sans-serif' font-size="9" fill="#1a1a1a">E10</text>
<path d="M509.40,66.20H521.90" stroke="#1fa27e" stroke-width="1.40"/>
<g fill="#1fa27e"><path d="M515.65,68.14L517.45,64.90L513.85,64.90Z"/></g>
<text x="528.90" y="69.50" font-family='"Liberation Sans", sans-serif' font-size="9" fill="#1a1a1a">E15</text>
<path d="M509.40,81.90H521.90" stroke="#5fcb45" stroke-width="1.80"/>
<g fill="#5fcb45"><path d="M515.65,80.03L517.15,81.90L515.65,83.77L514.15,81.90Z"/></g>
<text x="528.90" y="85.20" font-family='"Liberation Sans", sans-serif' font-size="9" fill="#1a1a1a">E20</text>
<circle cx="227.4" cy="221.4" r="1.65" fill="#3f0a55"/>
<g fill="#d890f0"><path d="M227.40,237.81L228.80,235.29L226.00,235.29Z"/></g>
<text x="240" y="225" font-family='"Liberation Sans", sans-serif' font-size="9.3" fill="#1a1a1a" xml:space="preserve">t = 0 h</text>
<text x="240" y="239.9" font-family='"Liberation Sans", sans-serif' font-size="9.3" fill="#1a1a1a" xml:space="preserve">t = 7 h</text>
</svg>
</body></html>
